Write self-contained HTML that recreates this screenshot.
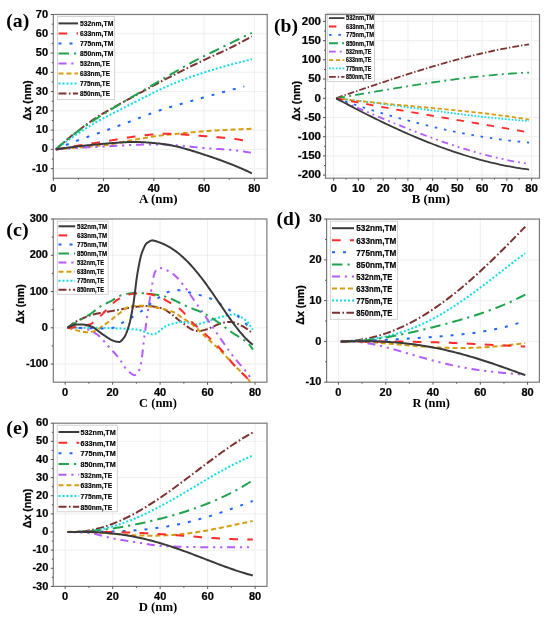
<!DOCTYPE html>
<html><head><meta charset="utf-8"><style>
html,body{margin:0;padding:0;background:#fff;}
svg{display:block;will-change:transform;filter:blur(0.35px);}
</style></head><body>
<svg width="550" height="624" viewBox="0 0 550 624">
<rect width="550" height="624" fill="#ffffff"/>
<line x1="103.57" y1="14.50" x2="103.57" y2="178.30" stroke="#ebebeb" stroke-width="0.8"/>
<line x1="153.84" y1="14.50" x2="153.84" y2="178.30" stroke="#ebebeb" stroke-width="0.8"/>
<line x1="204.11" y1="14.50" x2="204.11" y2="178.30" stroke="#ebebeb" stroke-width="0.8"/>
<line x1="254.38" y1="14.50" x2="254.38" y2="178.30" stroke="#ebebeb" stroke-width="0.8"/>
<line x1="53.30" y1="168.66" x2="267.20" y2="168.66" stroke="#ebebeb" stroke-width="0.8"/>
<line x1="53.30" y1="149.39" x2="267.20" y2="149.39" stroke="#ebebeb" stroke-width="0.8"/>
<line x1="53.30" y1="130.12" x2="267.20" y2="130.12" stroke="#ebebeb" stroke-width="0.8"/>
<line x1="53.30" y1="110.85" x2="267.20" y2="110.85" stroke="#ebebeb" stroke-width="0.8"/>
<line x1="53.30" y1="91.58" x2="267.20" y2="91.58" stroke="#ebebeb" stroke-width="0.8"/>
<line x1="53.30" y1="72.31" x2="267.20" y2="72.31" stroke="#ebebeb" stroke-width="0.8"/>
<line x1="53.30" y1="53.04" x2="267.20" y2="53.04" stroke="#ebebeb" stroke-width="0.8"/>
<line x1="53.30" y1="33.77" x2="267.20" y2="33.77" stroke="#ebebeb" stroke-width="0.8"/>
<clipPath id="ca"><rect x="53.3" y="14.5" width="213.89999999999998" height="163.8"/></clipPath>
<g clip-path="url(#ca)" fill="none" stroke-linejoin="round">
<path d="M55.81,149.39 L56.80,148.50 L57.78,147.62 L58.77,146.74 L59.75,145.87 L60.74,145.00 L61.72,144.14 L62.71,143.28 L63.70,142.44 L64.68,141.59 L65.67,140.76 L66.65,139.93 L67.64,139.10 L68.62,138.29 L69.61,137.48 L70.59,136.67 L71.58,135.88 L72.56,135.08 L73.55,134.30 L74.53,133.52 L75.52,132.75 L76.50,131.99 L77.49,131.23 L78.47,130.48 L79.46,129.73 L80.44,128.99 L81.43,128.25 L82.41,127.51 L83.40,126.77 L84.38,126.04 L85.37,125.31 L86.35,124.59 L87.34,123.87 L88.32,123.16 L89.31,122.45 L90.30,121.75 L91.28,121.06 L92.27,120.37 L93.25,119.69 L94.24,119.02 L95.22,118.36 L96.21,117.71 L97.19,117.07 L98.18,116.43 L99.16,115.81 L100.15,115.20 L101.13,114.60 L102.12,114.01 L103.10,113.43 L104.09,112.87 L105.07,112.31 L106.06,111.74 L107.04,111.18 L108.03,110.62 L109.01,110.06 L110.00,109.51 L110.98,108.95 L111.97,108.39 L112.95,107.84 L113.94,107.28 L114.93,106.73 L115.91,106.18 L116.90,105.63 L117.88,105.08 L118.87,104.53 L119.85,103.98 L120.84,103.43 L121.82,102.89 L122.81,102.34 L123.79,101.80 L124.78,101.25 L125.76,100.71 L126.75,100.17 L127.73,99.63 L128.72,99.09 L129.70,98.55 L130.69,98.01 L131.67,97.47 L132.66,96.94 L133.64,96.40 L134.63,95.86 L135.61,95.32 L136.60,94.78 L137.58,94.24 L138.57,93.70 L139.56,93.16 L140.54,92.63 L141.53,92.09 L142.51,91.55 L143.50,91.01 L144.48,90.48 L145.47,89.94 L146.45,89.41 L147.44,88.87 L148.42,88.34 L149.41,87.80 L150.39,87.27 L151.38,86.74 L152.36,86.21 L153.35,85.68 L154.33,85.15 L155.32,84.62 L156.30,84.10 L157.29,83.57 L158.27,83.05 L159.26,82.53 L160.24,82.01 L161.23,81.49 L162.21,80.97 L163.20,80.45 L164.19,79.93 L165.17,79.42 L166.16,78.91 L167.14,78.39 L168.13,77.88 L169.11,77.37 L170.10,76.86 L171.08,76.35 L172.07,75.84 L173.05,75.34 L174.04,74.83 L175.02,74.33 L176.01,73.82 L176.99,73.32 L177.98,72.82 L178.96,72.32 L179.95,71.82 L180.93,71.32 L181.92,70.82 L182.90,70.33 L183.89,69.84 L184.87,69.35 L185.86,68.86 L186.84,68.37 L187.83,67.88 L188.82,67.40 L189.80,66.92 L190.79,66.43 L191.77,65.95 L192.76,65.47 L193.74,64.99 L194.73,64.51 L195.71,64.03 L196.70,63.56 L197.68,63.08 L198.67,62.60 L199.65,62.13 L200.64,61.65 L201.62,61.18 L202.61,60.70 L203.59,60.23 L204.58,59.75 L205.56,59.28 L206.55,58.82 L207.53,58.36 L208.52,57.90 L209.50,57.44 L210.49,56.99 L211.47,56.54 L212.46,56.10 L213.44,55.65 L214.43,55.21 L215.42,54.76 L216.40,54.32 L217.39,53.88 L218.37,53.44 L219.36,52.99 L220.34,52.55 L221.33,52.10 L222.31,51.66 L223.30,51.21 L224.28,50.75 L225.27,50.30 L226.25,49.84 L227.24,49.37 L228.22,48.91 L229.21,48.43 L230.19,47.96 L231.18,47.47 L232.16,46.98 L233.15,46.49 L234.13,45.99 L235.12,45.48 L236.10,44.97 L237.09,44.46 L238.07,43.94 L239.06,43.41 L240.05,42.89 L241.03,42.35 L242.02,41.82 L243.00,41.28 L243.99,40.73 L244.97,40.18 L245.96,39.63 L246.94,39.08 L247.93,38.52 L248.91,37.97 L249.90,37.40 L250.88,36.84 L251.87,36.28" stroke="#7d3232" stroke-width="2.0" stroke-dasharray="8.00,2.40,1.60,2.40"/>
<path d="M55.81,149.39 L56.80,148.63 L57.78,147.88 L58.77,147.12 L59.75,146.38 L60.74,145.63 L61.72,144.90 L62.71,144.16 L63.70,143.44 L64.68,142.71 L65.67,141.99 L66.65,141.28 L67.64,140.57 L68.62,139.87 L69.61,139.18 L70.59,138.49 L71.58,137.80 L72.56,137.12 L73.55,136.45 L74.53,135.78 L75.52,135.12 L76.50,134.47 L77.49,133.82 L78.47,133.18 L79.46,132.55 L80.44,131.91 L81.43,131.28 L82.41,130.65 L83.40,130.02 L84.38,129.39 L85.37,128.77 L86.35,128.15 L87.34,127.54 L88.32,126.93 L89.31,126.32 L90.30,125.72 L91.28,125.12 L92.27,124.53 L93.25,123.94 L94.24,123.36 L95.22,122.78 L96.21,122.21 L97.19,121.65 L98.18,121.09 L99.16,120.54 L100.15,120.00 L101.13,119.47 L102.12,118.94 L103.10,118.42 L104.09,117.91 L105.07,117.40 L106.06,116.89 L107.04,116.38 L108.03,115.87 L109.01,115.36 L110.00,114.85 L110.98,114.34 L111.97,113.83 L112.95,113.33 L113.94,112.82 L114.93,112.31 L115.91,111.81 L116.90,111.30 L117.88,110.80 L118.87,110.29 L119.85,109.79 L120.84,109.28 L121.82,108.78 L122.81,108.27 L123.79,107.77 L124.78,107.27 L125.76,106.76 L126.75,106.26 L127.73,105.76 L128.72,105.26 L129.70,104.76 L130.69,104.25 L131.67,103.75 L132.66,103.25 L133.64,102.75 L134.63,102.25 L135.61,101.75 L136.60,101.25 L137.58,100.75 L138.57,100.25 L139.56,99.75 L140.54,99.25 L141.53,98.75 L142.51,98.25 L143.50,97.76 L144.48,97.26 L145.47,96.76 L146.45,96.26 L147.44,95.77 L148.42,95.27 L149.41,94.77 L150.39,94.28 L151.38,93.78 L152.36,93.29 L153.35,92.79 L154.33,92.30 L155.32,91.81 L156.30,91.33 L157.29,90.85 L158.27,90.37 L159.26,89.90 L160.24,89.44 L161.23,88.98 L162.21,88.52 L163.20,88.07 L164.19,87.62 L165.17,87.18 L166.16,86.74 L167.14,86.30 L168.13,85.87 L169.11,85.44 L170.10,85.02 L171.08,84.60 L172.07,84.18 L173.05,83.77 L174.04,83.36 L175.02,82.96 L176.01,82.56 L176.99,82.16 L177.98,81.77 L178.96,81.37 L179.95,80.99 L180.93,80.60 L181.92,80.22 L182.90,79.84 L183.89,79.47 L184.87,79.10 L185.86,78.74 L186.84,78.37 L187.83,78.01 L188.82,77.66 L189.80,77.30 L190.79,76.95 L191.77,76.61 L192.76,76.26 L193.74,75.92 L194.73,75.59 L195.71,75.25 L196.70,74.92 L197.68,74.59 L198.67,74.26 L199.65,73.94 L200.64,73.62 L201.62,73.30 L202.61,72.98 L203.59,72.67 L204.58,72.36 L205.56,72.05 L206.55,71.74 L207.53,71.43 L208.52,71.12 L209.50,70.81 L210.49,70.51 L211.47,70.20 L212.46,69.90 L213.44,69.60 L214.43,69.30 L215.42,69.00 L216.40,68.70 L217.39,68.40 L218.37,68.11 L219.36,67.82 L220.34,67.53 L221.33,67.24 L222.31,66.95 L223.30,66.67 L224.28,66.38 L225.27,66.10 L226.25,65.82 L227.24,65.55 L228.22,65.27 L229.21,65.00 L230.19,64.73 L231.18,64.46 L232.16,64.19 L233.15,63.93 L234.13,63.66 L235.12,63.40 L236.10,63.14 L237.09,62.88 L238.07,62.62 L239.06,62.37 L240.05,62.11 L241.03,61.86 L242.02,61.61 L243.00,61.36 L243.99,61.11 L244.97,60.87 L245.96,60.63 L246.94,60.38 L247.93,60.15 L248.91,59.91 L249.90,59.67 L250.88,59.44 L251.87,59.21" stroke="#12dcec" stroke-width="2.0" stroke-dasharray="2.00,2.00"/>
<path d="M55.81,149.39 L56.80,149.31 L57.78,149.23 L58.77,149.14 L59.75,149.06 L60.74,148.97 L61.72,148.89 L62.71,148.81 L63.70,148.72 L64.68,148.64 L65.67,148.55 L66.65,148.47 L67.64,148.39 L68.62,148.30 L69.61,148.22 L70.59,148.13 L71.58,148.05 L72.56,147.97 L73.55,147.88 L74.53,147.80 L75.52,147.72 L76.50,147.63 L77.49,147.55 L78.47,147.46 L79.46,147.38 L80.44,147.30 L81.43,147.21 L82.41,147.13 L83.40,147.05 L84.38,146.97 L85.37,146.89 L86.35,146.81 L87.34,146.72 L88.32,146.64 L89.31,146.56 L90.30,146.48 L91.28,146.40 L92.27,146.32 L93.25,146.23 L94.24,146.15 L95.22,146.07 L96.21,145.99 L97.19,145.90 L98.18,145.82 L99.16,145.73 L100.15,145.65 L101.13,145.56 L102.12,145.48 L103.10,145.39 L104.09,145.30 L105.07,145.20 L106.06,145.08 L107.04,144.95 L108.03,144.81 L109.01,144.65 L110.00,144.49 L110.98,144.32 L111.97,144.13 L112.95,143.95 L113.94,143.75 L114.93,143.55 L115.91,143.35 L116.90,143.14 L117.88,142.93 L118.87,142.72 L119.85,142.51 L120.84,142.29 L121.82,142.08 L122.81,141.87 L123.79,141.67 L124.78,141.47 L125.76,141.27 L126.75,141.08 L127.73,140.90 L128.72,140.72 L129.70,140.55 L130.69,140.38 L131.67,140.20 L132.66,140.03 L133.64,139.86 L134.63,139.68 L135.61,139.51 L136.60,139.33 L137.58,139.16 L138.57,138.99 L139.56,138.82 L140.54,138.65 L141.53,138.47 L142.51,138.31 L143.50,138.14 L144.48,137.97 L145.47,137.81 L146.45,137.64 L147.44,137.48 L148.42,137.32 L149.41,137.16 L150.39,137.01 L151.38,136.85 L152.36,136.70 L153.35,136.56 L154.33,136.41 L155.32,136.27 L156.30,136.13 L157.29,136.00 L158.27,135.87 L159.26,135.74 L160.24,135.61 L161.23,135.49 L162.21,135.37 L163.20,135.26 L164.19,135.14 L165.17,135.03 L166.16,134.92 L167.14,134.81 L168.13,134.70 L169.11,134.60 L170.10,134.49 L171.08,134.39 L172.07,134.29 L173.05,134.19 L174.04,134.09 L175.02,133.99 L176.01,133.89 L176.99,133.79 L177.98,133.69 L178.96,133.59 L179.95,133.49 L180.93,133.40 L181.92,133.30 L182.90,133.20 L183.89,133.10 L184.87,133.00 L185.86,132.91 L186.84,132.81 L187.83,132.71 L188.82,132.62 L189.80,132.52 L190.79,132.43 L191.77,132.34 L192.76,132.24 L193.74,132.15 L194.73,132.06 L195.71,131.97 L196.70,131.89 L197.68,131.80 L198.67,131.72 L199.65,131.63 L200.64,131.55 L201.62,131.47 L202.61,131.39 L203.59,131.32 L204.58,131.24 L205.56,131.17 L206.55,131.10 L207.53,131.03 L208.52,130.96 L209.50,130.89 L210.49,130.83 L211.47,130.76 L212.46,130.69 L213.44,130.63 L214.43,130.57 L215.42,130.51 L216.40,130.45 L217.39,130.39 L218.37,130.33 L219.36,130.27 L220.34,130.21 L221.33,130.16 L222.31,130.10 L223.30,130.05 L224.28,129.99 L225.27,129.94 L226.25,129.89 L227.24,129.84 L228.22,129.79 L229.21,129.74 L230.19,129.69 L231.18,129.64 L232.16,129.60 L233.15,129.55 L234.13,129.50 L235.12,129.45 L236.10,129.41 L237.09,129.36 L238.07,129.32 L239.06,129.28 L240.05,129.23 L241.03,129.19 L242.02,129.15 L243.00,129.11 L243.99,129.07 L244.97,129.03 L245.96,128.99 L246.94,128.95 L247.93,128.91 L248.91,128.88 L249.90,128.84 L250.88,128.81 L251.87,128.77" stroke="#d69d12" stroke-width="2.0" stroke-dasharray="5.00,3.00"/>
<path d="M55.81,149.39 L56.80,149.32 L57.78,149.25 L58.77,149.17 L59.75,149.10 L60.74,149.02 L61.72,148.95 L62.71,148.88 L63.70,148.81 L64.68,148.74 L65.67,148.66 L66.65,148.60 L67.64,148.53 L68.62,148.46 L69.61,148.39 L70.59,148.33 L71.58,148.26 L72.56,148.20 L73.55,148.14 L74.53,148.08 L75.52,148.02 L76.50,147.96 L77.49,147.90 L78.47,147.85 L79.46,147.80 L80.44,147.74 L81.43,147.69 L82.41,147.64 L83.40,147.59 L84.38,147.53 L85.37,147.48 L86.35,147.43 L87.34,147.37 L88.32,147.32 L89.31,147.27 L90.30,147.22 L91.28,147.16 L92.27,147.11 L93.25,147.06 L94.24,147.00 L95.22,146.95 L96.21,146.90 L97.19,146.85 L98.18,146.79 L99.16,146.74 L100.15,146.69 L101.13,146.63 L102.12,146.58 L103.10,146.53 L104.09,146.48 L105.07,146.42 L106.06,146.37 L107.04,146.32 L108.03,146.26 L109.01,146.21 L110.00,146.16 L110.98,146.11 L111.97,146.05 L112.95,146.00 L113.94,145.95 L114.93,145.89 L115.91,145.84 L116.90,145.79 L117.88,145.74 L118.87,145.68 L119.85,145.63 L120.84,145.58 L121.82,145.52 L122.81,145.47 L123.79,145.42 L124.78,145.37 L125.76,145.31 L126.75,145.26 L127.73,145.21 L128.72,145.15 L129.70,145.10 L130.69,145.05 L131.67,145.00 L132.66,144.96 L133.64,144.91 L134.63,144.87 L135.61,144.83 L136.60,144.79 L137.58,144.75 L138.57,144.71 L139.56,144.68 L140.54,144.65 L141.53,144.62 L142.51,144.59 L143.50,144.56 L144.48,144.54 L145.47,144.51 L146.45,144.49 L147.44,144.47 L148.42,144.45 L149.41,144.44 L150.39,144.42 L151.38,144.41 L152.36,144.40 L153.35,144.39 L154.33,144.38 L155.32,144.38 L156.30,144.38 L157.29,144.39 L158.27,144.40 L159.26,144.42 L160.24,144.44 L161.23,144.47 L162.21,144.50 L163.20,144.53 L164.19,144.57 L165.17,144.61 L166.16,144.66 L167.14,144.71 L168.13,144.76 L169.11,144.82 L170.10,144.88 L171.08,144.94 L172.07,145.01 L173.05,145.08 L174.04,145.15 L175.02,145.22 L176.01,145.30 L176.99,145.38 L177.98,145.46 L178.96,145.54 L179.95,145.62 L180.93,145.71 L181.92,145.80 L182.90,145.90 L183.89,145.99 L184.87,146.09 L185.86,146.19 L186.84,146.29 L187.83,146.39 L188.82,146.50 L189.80,146.60 L190.79,146.71 L191.77,146.81 L192.76,146.92 L193.74,147.02 L194.73,147.13 L195.71,147.23 L196.70,147.33 L197.68,147.43 L198.67,147.53 L199.65,147.63 L200.64,147.73 L201.62,147.82 L202.61,147.91 L203.59,148.00 L204.58,148.08 L205.56,148.17 L206.55,148.24 L207.53,148.32 L208.52,148.39 L209.50,148.45 L210.49,148.52 L211.47,148.58 L212.46,148.65 L213.44,148.71 L214.43,148.77 L215.42,148.82 L216.40,148.88 L217.39,148.94 L218.37,149.00 L219.36,149.06 L220.34,149.12 L221.33,149.18 L222.31,149.25 L223.30,149.31 L224.28,149.38 L225.27,149.45 L226.25,149.53 L227.24,149.61 L228.22,149.69 L229.21,149.78 L230.19,149.87 L231.18,149.96 L232.16,150.06 L233.15,150.17 L234.13,150.28 L235.12,150.39 L236.10,150.51 L237.09,150.63 L238.07,150.76 L239.06,150.89 L240.05,151.02 L241.03,151.16 L242.02,151.30 L243.00,151.45 L243.99,151.59 L244.97,151.74 L245.96,151.90 L246.94,152.05 L247.93,152.21 L248.91,152.37 L249.90,152.53 L250.88,152.70 L251.87,152.86" stroke="#b45cff" stroke-width="2.0" stroke-dasharray="8.00,4.80,2.20,4.80,2.20,4.80"/>
<path d="M55.81,149.39 L56.80,148.52 L57.78,147.64 L58.77,146.77 L59.75,145.91 L60.74,145.05 L61.72,144.19 L62.71,143.35 L63.70,142.50 L64.68,141.67 L65.67,140.84 L66.65,140.02 L67.64,139.21 L68.62,138.40 L69.61,137.60 L70.59,136.82 L71.58,136.04 L72.56,135.27 L73.55,134.51 L74.53,133.76 L75.52,133.02 L76.50,132.29 L77.49,131.57 L78.47,130.87 L79.46,130.17 L80.44,129.47 L81.43,128.78 L82.41,128.09 L83.40,127.40 L84.38,126.72 L85.37,126.04 L86.35,125.36 L87.34,124.68 L88.32,124.01 L89.31,123.35 L90.30,122.68 L91.28,122.02 L92.27,121.37 L93.25,120.71 L94.24,120.06 L95.22,119.42 L96.21,118.78 L97.19,118.14 L98.18,117.51 L99.16,116.88 L100.15,116.26 L101.13,115.64 L102.12,115.03 L103.10,114.42 L104.09,113.81 L105.07,113.21 L106.06,112.60 L107.04,111.99 L108.03,111.39 L109.01,110.78 L110.00,110.18 L110.98,109.57 L111.97,108.97 L112.95,108.36 L113.94,107.76 L114.93,107.16 L115.91,106.56 L116.90,105.96 L117.88,105.36 L118.87,104.76 L119.85,104.17 L120.84,103.57 L121.82,102.98 L122.81,102.39 L123.79,101.80 L124.78,101.22 L125.76,100.63 L126.75,100.05 L127.73,99.47 L128.72,98.90 L129.70,98.32 L130.69,97.75 L131.67,97.18 L132.66,96.60 L133.64,96.03 L134.63,95.45 L135.61,94.88 L136.60,94.31 L137.58,93.73 L138.57,93.16 L139.56,92.58 L140.54,92.01 L141.53,91.44 L142.51,90.86 L143.50,90.29 L144.48,89.71 L145.47,89.14 L146.45,88.56 L147.44,87.99 L148.42,87.42 L149.41,86.84 L150.39,86.27 L151.38,85.69 L152.36,85.12 L153.35,84.55 L154.33,83.97 L155.32,83.40 L156.30,82.82 L157.29,82.25 L158.27,81.68 L159.26,81.10 L160.24,80.53 L161.23,79.95 L162.21,79.38 L163.20,78.81 L164.19,78.23 L165.17,77.66 L166.16,77.08 L167.14,76.51 L168.13,75.94 L169.11,75.36 L170.10,74.79 L171.08,74.21 L172.07,73.64 L173.05,73.07 L174.04,72.49 L175.02,71.92 L176.01,71.34 L176.99,70.77 L177.98,70.20 L178.96,69.62 L179.95,69.05 L180.93,68.48 L181.92,67.92 L182.90,67.36 L183.89,66.80 L184.87,66.25 L185.86,65.70 L186.84,65.15 L187.83,64.61 L188.82,64.07 L189.80,63.53 L190.79,63.00 L191.77,62.47 L192.76,61.95 L193.74,61.43 L194.73,60.91 L195.71,60.39 L196.70,59.88 L197.68,59.37 L198.67,58.87 L199.65,58.36 L200.64,57.86 L201.62,57.37 L202.61,56.87 L203.59,56.38 L204.58,55.89 L205.56,55.41 L206.55,54.92 L207.53,54.43 L208.52,53.94 L209.50,53.46 L210.49,52.97 L211.47,52.49 L212.46,52.00 L213.44,51.52 L214.43,51.03 L215.42,50.55 L216.40,50.07 L217.39,49.58 L218.37,49.10 L219.36,48.62 L220.34,48.13 L221.33,47.65 L222.31,47.17 L223.30,46.69 L224.28,46.21 L225.27,45.73 L226.25,45.25 L227.24,44.77 L228.22,44.29 L229.21,43.81 L230.19,43.33 L231.18,42.85 L232.16,42.37 L233.15,41.89 L234.13,41.41 L235.12,40.93 L236.10,40.46 L237.09,39.98 L238.07,39.50 L239.06,39.02 L240.05,38.54 L241.03,38.06 L242.02,37.58 L243.00,37.10 L243.99,36.62 L244.97,36.15 L245.96,35.67 L246.94,35.19 L247.93,34.71 L248.91,34.24 L249.90,33.76 L250.88,33.28 L251.87,32.81" stroke="#1fa34d" stroke-width="2.0" stroke-dasharray="10.50,5.00,2.20,5.00"/>
<path d="M55.81,149.39 L56.76,148.98 L57.71,148.57 L58.66,148.16 L59.60,147.75 L60.55,147.34 L61.50,146.93 L62.44,146.53 L63.39,146.13 L64.34,145.73 L65.29,145.33 L66.23,144.93 L67.18,144.54 L68.13,144.15 L69.08,143.77 L70.02,143.38 L70.97,143.00 L71.92,142.63 L72.86,142.25 L73.81,141.88 L74.76,141.52 L75.71,141.16 L76.65,140.80 L77.60,140.45 L78.55,140.10 L79.50,139.76 L80.44,139.42 L81.39,139.08 L82.34,138.74 L83.29,138.40 L84.23,138.07 L85.18,137.74 L86.13,137.41 L87.07,137.08 L88.02,136.75 L88.97,136.42 L89.92,136.09 L90.86,135.76 L91.81,135.43 L92.76,135.10 L93.71,134.77 L94.65,134.44 L95.60,134.11 L96.55,133.78 L97.49,133.45 L98.44,133.12 L99.39,132.78 L100.34,132.45 L101.28,132.11 L102.23,131.77 L103.18,131.42 L104.13,131.08 L105.07,130.73 L106.02,130.39 L106.97,130.04 L107.92,129.69 L108.86,129.35 L109.81,129.00 L110.76,128.65 L111.70,128.30 L112.65,127.96 L113.60,127.61 L114.55,127.26 L115.49,126.91 L116.44,126.56 L117.39,126.21 L118.34,125.86 L119.28,125.51 L120.23,125.17 L121.18,124.82 L122.12,124.47 L123.07,124.12 L124.02,123.77 L124.97,123.41 L125.91,123.06 L126.86,122.71 L127.81,122.36 L128.76,122.01 L129.70,121.66 L130.65,121.30 L131.60,120.94 L132.55,120.58 L133.49,120.22 L134.44,119.85 L135.39,119.48 L136.33,119.11 L137.28,118.74 L138.23,118.37 L139.18,118.00 L140.12,117.63 L141.07,117.26 L142.02,116.89 L142.97,116.52 L143.91,116.15 L144.86,115.78 L145.81,115.41 L146.75,115.04 L147.70,114.68 L148.65,114.32 L149.60,113.96 L150.54,113.61 L151.49,113.25 L152.44,112.90 L153.39,112.56 L154.33,112.22 L155.28,111.88 L156.23,111.55 L157.18,111.22 L158.12,110.90 L159.07,110.58 L160.02,110.26 L160.96,109.95 L161.91,109.64 L162.86,109.33 L163.81,109.03 L164.75,108.73 L165.70,108.43 L166.65,108.14 L167.60,107.85 L168.54,107.56 L169.49,107.27 L170.44,106.99 L171.38,106.70 L172.33,106.42 L173.28,106.14 L174.23,105.87 L175.17,105.59 L176.12,105.32 L177.07,105.04 L178.02,104.77 L178.96,104.50 L179.91,104.23 L180.86,103.95 L181.80,103.68 L182.75,103.41 L183.70,103.14 L184.65,102.87 L185.59,102.60 L186.54,102.33 L187.49,102.06 L188.44,101.79 L189.38,101.51 L190.33,101.24 L191.28,100.98 L192.23,100.71 L193.17,100.44 L194.12,100.17 L195.07,99.90 L196.01,99.63 L196.96,99.36 L197.91,99.10 L198.86,98.83 L199.80,98.57 L200.75,98.30 L201.70,98.04 L202.65,97.77 L203.59,97.51 L204.54,97.24 L205.49,96.98 L206.43,96.72 L207.38,96.46 L208.33,96.19 L209.28,95.93 L210.22,95.67 L211.17,95.40 L212.12,95.14 L213.07,94.88 L214.01,94.62 L214.96,94.35 L215.91,94.09 L216.86,93.83 L217.80,93.57 L218.75,93.31 L219.70,93.04 L220.64,92.78 L221.59,92.52 L222.54,92.26 L223.49,92.00 L224.43,91.74 L225.38,91.48 L226.33,91.22 L227.28,90.96 L228.22,90.70 L229.17,90.45 L230.12,90.19 L231.06,89.93 L232.01,89.68 L232.96,89.42 L233.91,89.16 L234.85,88.91 L235.80,88.65 L236.75,88.40 L237.70,88.14 L238.64,87.89 L239.59,87.64 L240.54,87.39 L241.49,87.13 L242.43,86.88 L243.38,86.63 L244.33,86.38" stroke="#1f66ff" stroke-width="2.0" stroke-dasharray="3.00,8.00"/>
<path d="M55.81,149.39 L56.77,149.22 L57.73,149.05 L58.69,148.88 L59.65,148.71 L60.61,148.54 L61.57,148.38 L62.53,148.21 L63.49,148.04 L64.45,147.88 L65.41,147.71 L66.37,147.55 L67.33,147.38 L68.29,147.22 L69.25,147.06 L70.21,146.89 L71.17,146.73 L72.13,146.57 L73.09,146.41 L74.05,146.26 L75.01,146.10 L75.97,145.94 L76.93,145.78 L77.89,145.63 L78.85,145.47 L79.81,145.32 L80.77,145.17 L81.73,145.02 L82.69,144.87 L83.65,144.72 L84.61,144.57 L85.57,144.42 L86.53,144.28 L87.49,144.13 L88.45,143.98 L89.41,143.84 L90.37,143.70 L91.33,143.55 L92.29,143.41 L93.25,143.26 L94.21,143.12 L95.17,142.97 L96.13,142.83 L97.09,142.68 L98.05,142.54 L99.01,142.39 L99.97,142.25 L100.93,142.10 L101.89,141.95 L102.85,141.80 L103.81,141.65 L104.77,141.50 L105.73,141.34 L106.69,141.18 L107.65,141.03 L108.61,140.87 L109.57,140.71 L110.53,140.55 L111.49,140.38 L112.45,140.22 L113.41,140.05 L114.37,139.89 L115.33,139.72 L116.29,139.56 L117.25,139.39 L118.21,139.23 L119.17,139.06 L120.13,138.89 L121.09,138.73 L122.05,138.56 L123.01,138.40 L123.97,138.24 L124.93,138.07 L125.89,137.91 L126.85,137.75 L127.81,137.59 L128.77,137.44 L129.73,137.28 L130.69,137.13 L131.65,136.98 L132.61,136.83 L133.57,136.69 L134.53,136.55 L135.49,136.41 L136.45,136.28 L137.41,136.15 L138.37,136.02 L139.33,135.89 L140.29,135.77 L141.25,135.65 L142.21,135.54 L143.17,135.42 L144.13,135.31 L145.09,135.21 L146.05,135.10 L147.01,135.00 L147.97,134.90 L148.93,134.81 L149.89,134.71 L150.85,134.62 L151.81,134.54 L152.77,134.45 L153.73,134.37 L154.69,134.30 L155.65,134.22 L156.61,134.16 L157.57,134.10 L158.53,134.04 L159.49,133.99 L160.45,133.94 L161.41,133.90 L162.37,133.87 L163.33,133.84 L164.29,133.82 L165.25,133.80 L166.21,133.79 L167.17,133.78 L168.13,133.78 L169.09,133.78 L170.05,133.79 L171.01,133.81 L171.97,133.83 L172.93,133.86 L173.89,133.89 L174.85,133.93 L175.81,133.98 L176.77,134.03 L177.73,134.09 L178.69,134.15 L179.65,134.22 L180.61,134.29 L181.56,134.36 L182.52,134.43 L183.48,134.50 L184.44,134.57 L185.40,134.64 L186.36,134.71 L187.32,134.78 L188.28,134.86 L189.24,134.93 L190.20,135.00 L191.16,135.08 L192.12,135.15 L193.08,135.22 L194.04,135.30 L195.00,135.37 L195.96,135.45 L196.92,135.52 L197.88,135.60 L198.84,135.68 L199.80,135.75 L200.76,135.83 L201.72,135.91 L202.68,135.98 L203.64,136.06 L204.60,136.14 L205.56,136.21 L206.52,136.29 L207.48,136.37 L208.44,136.45 L209.40,136.53 L210.36,136.60 L211.32,136.68 L212.28,136.76 L213.24,136.84 L214.20,136.92 L215.16,137.00 L216.12,137.08 L217.08,137.16 L218.04,137.24 L219.00,137.32 L219.96,137.40 L220.92,137.48 L221.88,137.56 L222.84,137.65 L223.80,137.73 L224.76,137.82 L225.72,137.90 L226.68,137.99 L227.64,138.07 L228.60,138.16 L229.56,138.25 L230.52,138.34 L231.48,138.45 L232.44,138.57 L233.40,138.69 L234.36,138.83 L235.32,138.97 L236.28,139.12 L237.24,139.28 L238.20,139.44 L239.16,139.61 L240.12,139.79 L241.08,139.96 L242.04,140.15 L243.00,140.34 L243.96,140.53 L244.92,140.72 L245.88,140.91 L246.84,141.11" stroke="#ff2a2a" stroke-width="2.0" stroke-dasharray="8.70,9.30"/>
<path d="M55.81,149.39 L56.80,149.24 L57.78,149.09 L58.77,148.94 L59.75,148.80 L60.74,148.65 L61.72,148.51 L62.71,148.36 L63.70,148.22 L64.68,148.08 L65.67,147.95 L66.65,147.81 L67.64,147.67 L68.62,147.54 L69.61,147.41 L70.59,147.28 L71.58,147.15 L72.56,147.03 L73.55,146.90 L74.53,146.78 L75.52,146.66 L76.50,146.54 L77.49,146.42 L78.47,146.31 L79.46,146.19 L80.44,146.08 L81.43,145.97 L82.41,145.86 L83.40,145.76 L84.38,145.65 L85.37,145.55 L86.35,145.45 L87.34,145.35 L88.32,145.25 L89.31,145.15 L90.30,145.05 L91.28,144.95 L92.27,144.86 L93.25,144.76 L94.24,144.67 L95.22,144.58 L96.21,144.49 L97.19,144.39 L98.18,144.30 L99.16,144.21 L100.15,144.12 L101.13,144.03 L102.12,143.94 L103.10,143.85 L104.09,143.76 L105.07,143.67 L106.06,143.58 L107.04,143.50 L108.03,143.42 L109.01,143.33 L110.00,143.25 L110.98,143.18 L111.97,143.10 L112.95,143.03 L113.94,142.95 L114.93,142.88 L115.91,142.81 L116.90,142.75 L117.88,142.68 L118.87,142.62 L119.85,142.56 L120.84,142.50 L121.82,142.44 L122.81,142.38 L123.79,142.32 L124.78,142.27 L125.76,142.22 L126.75,142.17 L127.73,142.12 L128.72,142.07 L129.70,142.03 L130.69,142.00 L131.67,141.97 L132.66,141.95 L133.64,141.94 L134.63,141.94 L135.61,141.95 L136.60,141.96 L137.58,141.98 L138.57,142.01 L139.56,142.04 L140.54,142.08 L141.53,142.13 L142.51,142.18 L143.50,142.23 L144.48,142.29 L145.47,142.35 L146.45,142.42 L147.44,142.49 L148.42,142.57 L149.41,142.65 L150.39,142.73 L151.38,142.81 L152.36,142.90 L153.35,142.99 L154.33,143.08 L155.32,143.17 L156.30,143.27 L157.29,143.37 L158.27,143.48 L159.26,143.59 L160.24,143.70 L161.23,143.82 L162.21,143.95 L163.20,144.08 L164.19,144.21 L165.17,144.35 L166.16,144.50 L167.14,144.65 L168.13,144.81 L169.11,144.98 L170.10,145.16 L171.08,145.34 L172.07,145.53 L173.05,145.72 L174.04,145.93 L175.02,146.14 L176.01,146.36 L176.99,146.59 L177.98,146.83 L178.96,147.08 L179.95,147.33 L180.93,147.59 L181.92,147.85 L182.90,148.12 L183.89,148.39 L184.87,148.66 L185.86,148.94 L186.84,149.22 L187.83,149.50 L188.82,149.79 L189.80,150.08 L190.79,150.37 L191.77,150.67 L192.76,150.97 L193.74,151.27 L194.73,151.57 L195.71,151.88 L196.70,152.19 L197.68,152.50 L198.67,152.82 L199.65,153.14 L200.64,153.45 L201.62,153.78 L202.61,154.10 L203.59,154.43 L204.58,154.75 L205.56,155.08 L206.55,155.41 L207.53,155.74 L208.52,156.07 L209.50,156.40 L210.49,156.74 L211.47,157.07 L212.46,157.41 L213.44,157.74 L214.43,158.08 L215.42,158.42 L216.40,158.77 L217.39,159.11 L218.37,159.46 L219.36,159.81 L220.34,160.16 L221.33,160.51 L222.31,160.87 L223.30,161.23 L224.28,161.59 L225.27,161.96 L226.25,162.32 L227.24,162.70 L228.22,163.07 L229.21,163.45 L230.19,163.83 L231.18,164.22 L232.16,164.61 L233.15,165.00 L234.13,165.40 L235.12,165.81 L236.10,166.22 L237.09,166.63 L238.07,167.05 L239.06,167.47 L240.05,167.90 L241.03,168.33 L242.02,168.76 L243.00,169.20 L243.99,169.64 L244.97,170.09 L245.96,170.53 L246.94,170.98 L247.93,171.44 L248.91,171.90 L249.90,172.36 L250.88,172.82 L251.87,173.29" stroke="#3a3a3a" stroke-width="2.0"/>
</g>
<rect x="57.6" y="16.5" width="57.1" height="83.1" fill="#ffffff" stroke="#c8c8c8" stroke-width="0.8"/>
<line x1="58.5" y1="23.40" x2="78" y2="23.40" stroke="#3a3a3a" stroke-width="2.0"/>
<text x="80" y="26.17" font-family='"Liberation Sans", sans-serif' font-weight="bold" font-size="7.70" stroke="#000" stroke-width="0.18" textLength="33.30" lengthAdjust="spacingAndGlyphs">532nm,TM</text>
<line x1="58.5" y1="33.40" x2="78" y2="33.40" stroke="#ff2a2a" stroke-width="2.0" stroke-dasharray="8.70,9.30"/>
<text x="80" y="36.17" font-family='"Liberation Sans", sans-serif' font-weight="bold" font-size="7.70" stroke="#000" stroke-width="0.18" textLength="33.30" lengthAdjust="spacingAndGlyphs">633nm,TM</text>
<line x1="58.5" y1="43.40" x2="78" y2="43.40" stroke="#1f66ff" stroke-width="2.0" stroke-dasharray="3.00,8.00"/>
<text x="80" y="46.17" font-family='"Liberation Sans", sans-serif' font-weight="bold" font-size="7.70" stroke="#000" stroke-width="0.18" textLength="33.30" lengthAdjust="spacingAndGlyphs">775nm,TM</text>
<line x1="58.5" y1="53.40" x2="78" y2="53.40" stroke="#1fa34d" stroke-width="2.0" stroke-dasharray="10.50,5.00,2.20,5.00"/>
<text x="80" y="56.17" font-family='"Liberation Sans", sans-serif' font-weight="bold" font-size="7.70" stroke="#000" stroke-width="0.18" textLength="33.30" lengthAdjust="spacingAndGlyphs">850nm,TM</text>
<line x1="58.5" y1="63.40" x2="78" y2="63.40" stroke="#b45cff" stroke-width="2.0" stroke-dasharray="8.00,4.80,2.20,4.80,2.20,4.80"/>
<text x="80" y="66.17" font-family='"Liberation Sans", sans-serif' font-weight="bold" font-size="7.70" stroke="#000" stroke-width="0.18" textLength="29.97" lengthAdjust="spacingAndGlyphs">532nm,TE</text>
<line x1="58.5" y1="73.40" x2="78" y2="73.40" stroke="#d69d12" stroke-width="2.0" stroke-dasharray="5.00,3.00"/>
<text x="80" y="76.17" font-family='"Liberation Sans", sans-serif' font-weight="bold" font-size="7.70" stroke="#000" stroke-width="0.18" textLength="29.97" lengthAdjust="spacingAndGlyphs">633nm,TE</text>
<line x1="58.5" y1="83.40" x2="78" y2="83.40" stroke="#12dcec" stroke-width="2.0" stroke-dasharray="2.00,2.00"/>
<text x="80" y="86.17" font-family='"Liberation Sans", sans-serif' font-weight="bold" font-size="7.70" stroke="#000" stroke-width="0.18" textLength="29.97" lengthAdjust="spacingAndGlyphs">775nm,TE</text>
<line x1="58.5" y1="93.40" x2="78" y2="93.40" stroke="#7d3232" stroke-width="2.0" stroke-dasharray="8.00,2.40,1.60,2.40"/>
<text x="80" y="96.17" font-family='"Liberation Sans", sans-serif' font-weight="bold" font-size="7.70" stroke="#000" stroke-width="0.18" textLength="29.97" lengthAdjust="spacingAndGlyphs">850nm,TE</text>
<rect x="53.3" y="14.5" width="213.89999999999998" height="163.8" fill="none" stroke="#7a7a7a" stroke-width="1.2"/>
<line x1="53.30" y1="178.30" x2="53.30" y2="180.80" stroke="#555" stroke-width="1"/>
<line x1="103.57" y1="178.30" x2="103.57" y2="180.80" stroke="#555" stroke-width="1"/>
<line x1="153.84" y1="178.30" x2="153.84" y2="180.80" stroke="#555" stroke-width="1"/>
<line x1="204.11" y1="178.30" x2="204.11" y2="180.80" stroke="#555" stroke-width="1"/>
<line x1="254.38" y1="178.30" x2="254.38" y2="180.80" stroke="#555" stroke-width="1"/>
<line x1="78.44" y1="178.30" x2="78.44" y2="179.80" stroke="#555" stroke-width="1"/>
<line x1="128.71" y1="178.30" x2="128.71" y2="179.80" stroke="#555" stroke-width="1"/>
<line x1="178.98" y1="178.30" x2="178.98" y2="179.80" stroke="#555" stroke-width="1"/>
<line x1="229.25" y1="178.30" x2="229.25" y2="179.80" stroke="#555" stroke-width="1"/>
<line x1="50.80" y1="168.66" x2="53.30" y2="168.66" stroke="#555" stroke-width="1"/>
<line x1="50.80" y1="149.39" x2="53.30" y2="149.39" stroke="#555" stroke-width="1"/>
<line x1="50.80" y1="130.12" x2="53.30" y2="130.12" stroke="#555" stroke-width="1"/>
<line x1="50.80" y1="110.85" x2="53.30" y2="110.85" stroke="#555" stroke-width="1"/>
<line x1="50.80" y1="91.58" x2="53.30" y2="91.58" stroke="#555" stroke-width="1"/>
<line x1="50.80" y1="72.31" x2="53.30" y2="72.31" stroke="#555" stroke-width="1"/>
<line x1="50.80" y1="53.04" x2="53.30" y2="53.04" stroke="#555" stroke-width="1"/>
<line x1="50.80" y1="33.77" x2="53.30" y2="33.77" stroke="#555" stroke-width="1"/>
<line x1="50.80" y1="14.50" x2="53.30" y2="14.50" stroke="#555" stroke-width="1"/>
<line x1="51.80" y1="159.03" x2="53.30" y2="159.03" stroke="#555" stroke-width="1"/>
<line x1="51.80" y1="139.76" x2="53.30" y2="139.76" stroke="#555" stroke-width="1"/>
<line x1="51.80" y1="120.49" x2="53.30" y2="120.49" stroke="#555" stroke-width="1"/>
<line x1="51.80" y1="101.22" x2="53.30" y2="101.22" stroke="#555" stroke-width="1"/>
<line x1="51.80" y1="81.95" x2="53.30" y2="81.95" stroke="#555" stroke-width="1"/>
<line x1="51.80" y1="62.68" x2="53.30" y2="62.68" stroke="#555" stroke-width="1"/>
<line x1="51.80" y1="43.41" x2="53.30" y2="43.41" stroke="#555" stroke-width="1"/>
<line x1="51.80" y1="24.14" x2="53.30" y2="24.14" stroke="#555" stroke-width="1"/>
<text x="53.30" y="192.00" text-anchor="middle" font-family='"Liberation Sans", sans-serif' font-weight="bold" font-size="10" stroke="#000" stroke-width="0.2" textLength="6.12" lengthAdjust="spacingAndGlyphs">0</text>
<text x="103.57" y="192.00" text-anchor="middle" font-family='"Liberation Sans", sans-serif' font-weight="bold" font-size="10" stroke="#000" stroke-width="0.2" textLength="12.23" lengthAdjust="spacingAndGlyphs">20</text>
<text x="153.84" y="192.00" text-anchor="middle" font-family='"Liberation Sans", sans-serif' font-weight="bold" font-size="10" stroke="#000" stroke-width="0.2" textLength="12.23" lengthAdjust="spacingAndGlyphs">40</text>
<text x="204.11" y="192.00" text-anchor="middle" font-family='"Liberation Sans", sans-serif' font-weight="bold" font-size="10" stroke="#000" stroke-width="0.2" textLength="12.23" lengthAdjust="spacingAndGlyphs">60</text>
<text x="254.38" y="192.00" text-anchor="middle" font-family='"Liberation Sans", sans-serif' font-weight="bold" font-size="10" stroke="#000" stroke-width="0.2" textLength="12.23" lengthAdjust="spacingAndGlyphs">80</text>
<text x="48.00" y="171.76" text-anchor="end" font-family='"Liberation Sans", sans-serif' font-weight="bold" font-size="10" stroke="#000" stroke-width="0.2" textLength="15.90" lengthAdjust="spacingAndGlyphs">-10</text>
<text x="48.00" y="152.49" text-anchor="end" font-family='"Liberation Sans", sans-serif' font-weight="bold" font-size="10" stroke="#000" stroke-width="0.2" textLength="6.12" lengthAdjust="spacingAndGlyphs">0</text>
<text x="48.00" y="133.22" text-anchor="end" font-family='"Liberation Sans", sans-serif' font-weight="bold" font-size="10" stroke="#000" stroke-width="0.2" textLength="12.23" lengthAdjust="spacingAndGlyphs">10</text>
<text x="48.00" y="113.95" text-anchor="end" font-family='"Liberation Sans", sans-serif' font-weight="bold" font-size="10" stroke="#000" stroke-width="0.2" textLength="12.23" lengthAdjust="spacingAndGlyphs">20</text>
<text x="48.00" y="94.68" text-anchor="end" font-family='"Liberation Sans", sans-serif' font-weight="bold" font-size="10" stroke="#000" stroke-width="0.2" textLength="12.23" lengthAdjust="spacingAndGlyphs">30</text>
<text x="48.00" y="75.41" text-anchor="end" font-family='"Liberation Sans", sans-serif' font-weight="bold" font-size="10" stroke="#000" stroke-width="0.2" textLength="12.23" lengthAdjust="spacingAndGlyphs">40</text>
<text x="48.00" y="56.14" text-anchor="end" font-family='"Liberation Sans", sans-serif' font-weight="bold" font-size="10" stroke="#000" stroke-width="0.2" textLength="12.23" lengthAdjust="spacingAndGlyphs">50</text>
<text x="48.00" y="36.87" text-anchor="end" font-family='"Liberation Sans", sans-serif' font-weight="bold" font-size="10" stroke="#000" stroke-width="0.2" textLength="12.23" lengthAdjust="spacingAndGlyphs">60</text>
<text x="48.00" y="17.60" text-anchor="end" font-family='"Liberation Sans", sans-serif' font-weight="bold" font-size="10" stroke="#000" stroke-width="0.2" textLength="12.23" lengthAdjust="spacingAndGlyphs">70</text>
<text x="139" y="203" font-family='"Liberation Serif", serif' font-weight="bold" font-size="12" textLength="38.5" lengthAdjust="spacingAndGlyphs">A (nm)</text>
<text transform="translate(30.5,100.4) rotate(-90)" text-anchor="middle" font-family='"Liberation Sans", sans-serif' font-weight="bold" font-size="11" stroke="#000" stroke-width="0.25" textLength="40" lengthAdjust="spacingAndGlyphs">&#916;x (nm)</text>
<text x="6.3" y="26.5" font-family='"Liberation Serif", serif' font-weight="bold" font-size="19" textLength="23" lengthAdjust="spacingAndGlyphs">(a)</text>
<line x1="333.66" y1="14.50" x2="333.66" y2="178.20" stroke="#ebebeb" stroke-width="0.8"/>
<line x1="358.40" y1="14.50" x2="358.40" y2="178.20" stroke="#ebebeb" stroke-width="0.8"/>
<line x1="383.14" y1="14.50" x2="383.14" y2="178.20" stroke="#ebebeb" stroke-width="0.8"/>
<line x1="407.88" y1="14.50" x2="407.88" y2="178.20" stroke="#ebebeb" stroke-width="0.8"/>
<line x1="432.62" y1="14.50" x2="432.62" y2="178.20" stroke="#ebebeb" stroke-width="0.8"/>
<line x1="457.36" y1="14.50" x2="457.36" y2="178.20" stroke="#ebebeb" stroke-width="0.8"/>
<line x1="482.10" y1="14.50" x2="482.10" y2="178.20" stroke="#ebebeb" stroke-width="0.8"/>
<line x1="506.84" y1="14.50" x2="506.84" y2="178.20" stroke="#ebebeb" stroke-width="0.8"/>
<line x1="531.58" y1="14.50" x2="531.58" y2="178.20" stroke="#ebebeb" stroke-width="0.8"/>
<line x1="325.50" y1="175.13" x2="539.50" y2="175.13" stroke="#ebebeb" stroke-width="0.8"/>
<line x1="325.50" y1="155.91" x2="539.50" y2="155.91" stroke="#ebebeb" stroke-width="0.8"/>
<line x1="325.50" y1="136.70" x2="539.50" y2="136.70" stroke="#ebebeb" stroke-width="0.8"/>
<line x1="325.50" y1="117.48" x2="539.50" y2="117.48" stroke="#ebebeb" stroke-width="0.8"/>
<line x1="325.50" y1="98.27" x2="539.50" y2="98.27" stroke="#ebebeb" stroke-width="0.8"/>
<line x1="325.50" y1="79.06" x2="539.50" y2="79.06" stroke="#ebebeb" stroke-width="0.8"/>
<line x1="325.50" y1="59.84" x2="539.50" y2="59.84" stroke="#ebebeb" stroke-width="0.8"/>
<line x1="325.50" y1="40.63" x2="539.50" y2="40.63" stroke="#ebebeb" stroke-width="0.8"/>
<line x1="325.50" y1="21.42" x2="539.50" y2="21.42" stroke="#ebebeb" stroke-width="0.8"/>
<clipPath id="cb"><rect x="325.5" y="14.5" width="214.0" height="163.7"/></clipPath>
<g clip-path="url(#cb)" fill="none" stroke-linejoin="round">
<path d="M336.14,98.10 L338.58,97.27 L341.02,96.43 L343.47,95.60 L345.91,94.76 L348.35,93.93 L350.79,93.09 L353.24,92.26 L355.68,91.43 L358.12,90.60 L360.56,89.76 L363.01,88.93 L365.45,88.11 L367.89,87.28 L370.34,86.45 L372.78,85.63 L375.22,84.81 L377.66,83.99 L380.11,83.17 L382.55,82.36 L384.99,81.55 L387.43,80.74 L389.88,79.93 L392.32,79.13 L394.76,78.33 L397.20,77.53 L399.65,76.74 L402.09,75.95 L404.53,75.17 L406.98,74.39 L409.42,73.61 L411.86,72.84 L414.30,72.08 L416.75,71.31 L419.19,70.56 L421.63,69.81 L424.07,69.06 L426.52,68.32 L428.96,67.58 L431.40,66.85 L433.85,66.13 L436.29,65.41 L438.73,64.70 L441.17,64.00 L443.62,63.30 L446.06,62.61 L448.50,61.93 L450.94,61.25 L453.39,60.58 L455.83,59.92 L458.27,59.27 L460.71,58.62 L463.16,57.98 L465.60,57.35 L468.04,56.73 L470.49,56.12 L472.93,55.51 L475.37,54.92 L477.81,54.33 L480.26,53.75 L482.70,53.18 L485.14,52.62 L487.58,52.07 L490.03,51.53 L492.47,51.00 L494.91,50.48 L497.35,49.97 L499.80,49.48 L502.24,48.99 L504.68,48.51 L507.13,48.04 L509.57,47.59 L512.01,47.14 L514.45,46.71 L516.90,46.29 L519.34,45.88 L521.78,45.48 L524.22,45.10 L526.67,44.73 L529.11,44.36" stroke="#7d3232" stroke-width="1.8" stroke-dasharray="6.80,2.04,1.36,2.04"/>
<path d="M336.14,98.32 L338.58,98.58 L341.02,98.84 L343.47,99.11 L345.91,99.38 L348.35,99.66 L350.79,99.94 L353.24,100.22 L355.68,100.51 L358.12,100.80 L360.56,101.09 L363.01,101.39 L365.45,101.69 L367.89,101.99 L370.34,102.30 L372.78,102.61 L375.22,102.92 L377.66,103.23 L380.11,103.55 L382.55,103.86 L384.99,104.18 L387.43,104.50 L389.88,104.82 L392.32,105.14 L394.76,105.47 L397.20,105.79 L399.65,106.12 L402.09,106.45 L404.53,106.78 L406.98,107.10 L409.42,107.43 L411.86,107.76 L414.30,108.09 L416.75,108.42 L419.19,108.75 L421.63,109.08 L424.07,109.41 L426.52,109.73 L428.96,110.06 L431.40,110.39 L433.85,110.71 L436.29,111.04 L438.73,111.36 L441.17,111.68 L443.62,112.00 L446.06,112.32 L448.50,112.63 L450.94,112.95 L453.39,113.26 L455.83,113.57 L458.27,113.87 L460.71,114.18 L463.16,114.48 L465.60,114.78 L468.04,115.07 L470.49,115.37 L472.93,115.66 L475.37,115.94 L477.81,116.22 L480.26,116.50 L482.70,116.78 L485.14,117.05 L487.58,117.31 L490.03,117.57 L492.47,117.83 L494.91,118.09 L497.35,118.33 L499.80,118.58 L502.24,118.81 L504.68,119.05 L507.13,119.28 L509.57,119.50 L512.01,119.71 L514.45,119.93 L516.90,120.13 L519.34,120.33 L521.78,120.52 L524.22,120.71 L526.67,120.89 L529.11,121.06" stroke="#12dcec" stroke-width="1.8" stroke-dasharray="1.70,1.70"/>
<path d="M336.14,98.25 L338.58,98.56 L341.02,98.86 L343.47,99.16 L345.91,99.46 L348.35,99.74 L350.79,100.03 L353.24,100.31 L355.68,100.58 L358.12,100.85 L360.56,101.12 L363.01,101.39 L365.45,101.65 L367.89,101.90 L370.34,102.16 L372.78,102.41 L375.22,102.66 L377.66,102.90 L380.11,103.14 L382.55,103.38 L384.99,103.62 L387.43,103.86 L389.88,104.09 L392.32,104.33 L394.76,104.56 L397.20,104.79 L399.65,105.01 L402.09,105.24 L404.53,105.47 L406.98,105.69 L409.42,105.92 L411.86,106.14 L414.30,106.37 L416.75,106.59 L419.19,106.82 L421.63,107.04 L424.07,107.26 L426.52,107.49 L428.96,107.71 L431.40,107.94 L433.85,108.17 L436.29,108.40 L438.73,108.63 L441.17,108.86 L443.62,109.09 L446.06,109.33 L448.50,109.57 L450.94,109.80 L453.39,110.05 L455.83,110.29 L458.27,110.54 L460.71,110.79 L463.16,111.04 L465.60,111.29 L468.04,111.55 L470.49,111.81 L472.93,112.08 L475.37,112.35 L477.81,112.62 L480.26,112.90 L482.70,113.18 L485.14,113.47 L487.58,113.76 L490.03,114.05 L492.47,114.35 L494.91,114.66 L497.35,114.97 L499.80,115.28 L502.24,115.61 L504.68,115.93 L507.13,116.26 L509.57,116.60 L512.01,116.95 L514.45,117.30 L516.90,117.66 L519.34,118.02 L521.78,118.39 L524.22,118.77 L526.67,119.16 L529.11,119.55" stroke="#d69d12" stroke-width="1.8" stroke-dasharray="4.25,2.55"/>
<path d="M336.14,98.72 L338.58,99.77 L341.02,100.81 L343.47,101.86 L345.91,102.90 L348.35,103.95 L350.79,105.00 L353.24,106.04 L355.68,107.08 L358.12,108.13 L360.56,109.17 L363.01,110.21 L365.45,111.24 L367.89,112.28 L370.34,113.31 L372.78,114.34 L375.22,115.37 L377.66,116.40 L380.11,117.42 L382.55,118.44 L384.99,119.45 L387.43,120.46 L389.88,121.47 L392.32,122.47 L394.76,123.46 L397.20,124.46 L399.65,125.44 L402.09,126.42 L404.53,127.40 L406.98,128.37 L409.42,129.33 L411.86,130.29 L414.30,131.24 L416.75,132.18 L419.19,133.12 L421.63,134.05 L424.07,134.97 L426.52,135.88 L428.96,136.79 L431.40,137.68 L433.85,138.57 L436.29,139.45 L438.73,140.32 L441.17,141.18 L443.62,142.03 L446.06,142.88 L448.50,143.71 L450.94,144.53 L453.39,145.34 L455.83,146.14 L458.27,146.93 L460.71,147.71 L463.16,148.47 L465.60,149.23 L468.04,149.97 L470.49,150.70 L472.93,151.42 L475.37,152.12 L477.81,152.82 L480.26,153.50 L482.70,154.16 L485.14,154.81 L487.58,155.45 L490.03,156.08 L492.47,156.69 L494.91,157.28 L497.35,157.86 L499.80,158.43 L502.24,158.98 L504.68,159.51 L507.13,160.03 L509.57,160.53 L512.01,161.02 L514.45,161.49 L516.90,161.94 L519.34,162.38 L521.78,162.80 L524.22,163.20 L526.67,163.58 L529.11,163.95" stroke="#b45cff" stroke-width="1.8" stroke-dasharray="6.80,4.08,1.87,4.08,1.87,4.08"/>
<path d="M336.14,98.25 L338.58,97.84 L341.02,97.43 L343.47,97.02 L345.91,96.61 L348.35,96.20 L350.79,95.79 L353.24,95.37 L355.68,94.96 L358.12,94.54 L360.56,94.13 L363.01,93.71 L365.45,93.30 L367.89,92.88 L370.34,92.47 L372.78,92.05 L375.22,91.64 L377.66,91.23 L380.11,90.82 L382.55,90.40 L384.99,90.00 L387.43,89.59 L389.88,89.18 L392.32,88.77 L394.76,88.37 L397.20,87.97 L399.65,87.57 L402.09,87.17 L404.53,86.77 L406.98,86.38 L409.42,85.99 L411.86,85.60 L414.30,85.22 L416.75,84.83 L419.19,84.45 L421.63,84.08 L424.07,83.70 L426.52,83.33 L428.96,82.97 L431.40,82.60 L433.85,82.24 L436.29,81.89 L438.73,81.54 L441.17,81.19 L443.62,80.84 L446.06,80.51 L448.50,80.17 L450.94,79.84 L453.39,79.52 L455.83,79.20 L458.27,78.88 L460.71,78.57 L463.16,78.27 L465.60,77.97 L468.04,77.68 L470.49,77.39 L472.93,77.11 L475.37,76.83 L477.81,76.56 L480.26,76.30 L482.70,76.04 L485.14,75.79 L487.58,75.55 L490.03,75.31 L492.47,75.08 L494.91,74.85 L497.35,74.64 L499.80,74.43 L502.24,74.23 L504.68,74.03 L507.13,73.85 L509.57,73.67 L512.01,73.50 L514.45,73.33 L516.90,73.18 L519.34,73.03 L521.78,72.90 L524.22,72.77 L526.67,72.65 L529.11,72.54" stroke="#1fa34d" stroke-width="1.8" stroke-dasharray="8.92,4.25,1.87,4.25"/>
<path d="M336.14,98.28 L338.58,99.13 L341.02,99.98 L343.47,100.82 L345.91,101.65 L348.35,102.47 L350.79,103.29 L353.24,104.11 L355.68,104.92 L358.12,105.72 L360.56,106.51 L363.01,107.30 L365.45,108.08 L367.89,108.86 L370.34,109.63 L372.78,110.39 L375.22,111.14 L377.66,111.89 L380.11,112.63 L382.55,113.37 L384.99,114.09 L387.43,114.81 L389.88,115.53 L392.32,116.23 L394.76,116.93 L397.20,117.62 L399.65,118.31 L402.09,118.98 L404.53,119.65 L406.98,120.31 L409.42,120.97 L411.86,121.62 L414.30,122.25 L416.75,122.89 L419.19,123.51 L421.63,124.12 L424.07,124.73 L426.52,125.33 L428.96,125.92 L431.40,126.51 L433.85,127.08 L436.29,127.65 L438.73,128.21 L441.17,128.76 L443.62,129.30 L446.06,129.83 L448.50,130.36 L450.94,130.88 L453.39,131.38 L455.83,131.88 L458.27,132.37 L460.71,132.86 L463.16,133.33 L465.60,133.79 L468.04,134.25 L470.49,134.70 L472.93,135.13 L475.37,135.56 L477.81,135.98 L480.26,136.39 L482.70,136.79 L485.14,137.18 L487.58,137.57 L490.03,137.94 L492.47,138.30 L494.91,138.66 L497.35,139.00 L499.80,139.33 L502.24,139.66 L504.68,139.97 L507.13,140.28 L509.57,140.57 L512.01,140.86 L514.45,141.14 L516.90,141.40 L519.34,141.66 L521.78,141.90 L524.22,142.14 L526.67,142.36 L529.11,142.57" stroke="#1f66ff" stroke-width="1.8" stroke-dasharray="2.55,6.80"/>
<path d="M336.14,98.25 L338.52,98.73 L340.90,99.20 L343.28,99.67 L345.66,100.14 L348.04,100.60 L350.42,101.06 L352.80,101.52 L355.18,101.98 L357.56,102.43 L359.94,102.89 L362.32,103.33 L364.70,103.78 L367.08,104.23 L369.46,104.67 L371.84,105.11 L374.22,105.55 L376.60,105.98 L378.98,106.41 L381.36,106.85 L383.74,107.28 L386.12,107.70 L388.50,108.13 L390.88,108.56 L393.26,108.98 L395.64,109.40 L398.02,109.82 L400.40,110.24 L402.78,110.66 L405.16,111.07 L407.54,111.49 L409.92,111.90 L412.30,112.31 L414.68,112.73 L417.06,113.14 L419.44,113.55 L421.82,113.95 L424.20,114.36 L426.58,114.77 L428.96,115.18 L431.34,115.58 L433.72,115.99 L436.10,116.39 L438.48,116.80 L440.86,117.20 L443.24,117.60 L445.62,118.01 L448.00,118.41 L450.38,118.81 L452.76,119.22 L455.14,119.62 L457.52,120.02 L459.90,120.43 L462.28,120.83 L464.66,121.23 L467.04,121.64 L469.42,122.04 L471.80,122.45 L474.18,122.85 L476.56,123.26 L478.94,123.66 L481.32,124.07 L483.70,124.48 L486.08,124.89 L488.46,125.30 L490.84,125.71 L493.22,126.12 L495.60,126.53 L497.98,126.95 L500.36,127.36 L502.74,127.78 L505.12,128.19 L507.50,128.61 L509.88,129.03 L512.26,129.46 L514.64,129.88 L517.02,130.30 L519.40,130.73 L521.78,131.16 L524.16,131.59" stroke="#ff2a2a" stroke-width="1.8" stroke-dasharray="7.39,7.91"/>
<path d="M336.14,98.29 L338.58,99.61 L341.02,100.93 L343.47,102.24 L345.91,103.54 L348.35,104.84 L350.79,106.13 L353.24,107.41 L355.68,108.68 L358.12,109.95 L360.56,111.21 L363.01,112.46 L365.45,113.70 L367.89,114.93 L370.34,116.16 L372.78,117.37 L375.22,118.58 L377.66,119.78 L380.11,120.97 L382.55,122.15 L384.99,123.32 L387.43,124.48 L389.88,125.63 L392.32,126.77 L394.76,127.90 L397.20,129.02 L399.65,130.13 L402.09,131.23 L404.53,132.32 L406.98,133.40 L409.42,134.46 L411.86,135.52 L414.30,136.56 L416.75,137.59 L419.19,138.61 L421.63,139.62 L424.07,140.62 L426.52,141.60 L428.96,142.57 L431.40,143.53 L433.85,144.47 L436.29,145.41 L438.73,146.32 L441.17,147.23 L443.62,148.12 L446.06,149.00 L448.50,149.86 L450.94,150.71 L453.39,151.55 L455.83,152.37 L458.27,153.18 L460.71,153.97 L463.16,154.75 L465.60,155.51 L468.04,156.26 L470.49,156.99 L472.93,157.71 L475.37,158.41 L477.81,159.10 L480.26,159.77 L482.70,160.42 L485.14,161.06 L487.58,161.68 L490.03,162.28 L492.47,162.87 L494.91,163.44 L497.35,163.99 L499.80,164.52 L502.24,165.04 L504.68,165.54 L507.13,166.02 L509.57,166.49 L512.01,166.93 L514.45,167.36 L516.90,167.77 L519.34,168.16 L521.78,168.53 L524.22,168.88 L526.67,169.22 L529.11,169.53" stroke="#3a3a3a" stroke-width="1.8"/>
</g>
<rect x="327.3" y="13.2" width="47.19999999999999" height="68.2" fill="#ffffff" stroke="#c8c8c8" stroke-width="0.8"/>
<line x1="329" y1="18.10" x2="344.5" y2="18.10" stroke="#3a3a3a" stroke-width="1.8"/>
<text x="346" y="20.40" font-family='"Liberation Sans", sans-serif' font-weight="bold" font-size="6.38" stroke="#000" stroke-width="0.18" textLength="28.00" lengthAdjust="spacingAndGlyphs">532nm,TM</text>
<line x1="329" y1="26.49" x2="344.5" y2="26.49" stroke="#ff2a2a" stroke-width="1.8" stroke-dasharray="7.39,7.91"/>
<text x="346" y="28.79" font-family='"Liberation Sans", sans-serif' font-weight="bold" font-size="6.38" stroke="#000" stroke-width="0.18" textLength="28.00" lengthAdjust="spacingAndGlyphs">633nm,TM</text>
<line x1="329" y1="34.88" x2="344.5" y2="34.88" stroke="#1f66ff" stroke-width="1.8" stroke-dasharray="2.55,6.80"/>
<text x="346" y="37.18" font-family='"Liberation Sans", sans-serif' font-weight="bold" font-size="6.38" stroke="#000" stroke-width="0.18" textLength="28.00" lengthAdjust="spacingAndGlyphs">775nm,TM</text>
<line x1="329" y1="43.27" x2="344.5" y2="43.27" stroke="#1fa34d" stroke-width="1.8" stroke-dasharray="8.92,4.25,1.87,4.25"/>
<text x="346" y="45.57" font-family='"Liberation Sans", sans-serif' font-weight="bold" font-size="6.38" stroke="#000" stroke-width="0.18" textLength="28.00" lengthAdjust="spacingAndGlyphs">850nm,TM</text>
<line x1="329" y1="51.66" x2="344.5" y2="51.66" stroke="#b45cff" stroke-width="1.8" stroke-dasharray="6.80,4.08,1.87,4.08,1.87,4.08"/>
<text x="346" y="53.96" font-family='"Liberation Sans", sans-serif' font-weight="bold" font-size="6.38" stroke="#000" stroke-width="0.18" textLength="25.20" lengthAdjust="spacingAndGlyphs">532nm,TE</text>
<line x1="329" y1="60.05" x2="344.5" y2="60.05" stroke="#d69d12" stroke-width="1.8" stroke-dasharray="4.25,2.55"/>
<text x="346" y="62.35" font-family='"Liberation Sans", sans-serif' font-weight="bold" font-size="6.38" stroke="#000" stroke-width="0.18" textLength="25.20" lengthAdjust="spacingAndGlyphs">633nm,TE</text>
<line x1="329" y1="68.44" x2="344.5" y2="68.44" stroke="#12dcec" stroke-width="1.8" stroke-dasharray="1.70,1.70"/>
<text x="346" y="70.74" font-family='"Liberation Sans", sans-serif' font-weight="bold" font-size="6.38" stroke="#000" stroke-width="0.18" textLength="25.20" lengthAdjust="spacingAndGlyphs">775nm,TE</text>
<line x1="329" y1="76.83" x2="344.5" y2="76.83" stroke="#7d3232" stroke-width="1.8" stroke-dasharray="6.80,2.04,1.36,2.04"/>
<text x="346" y="79.13" font-family='"Liberation Sans", sans-serif' font-weight="bold" font-size="6.38" stroke="#000" stroke-width="0.18" textLength="25.20" lengthAdjust="spacingAndGlyphs">850nm,TE</text>
<rect x="325.5" y="14.5" width="214.0" height="163.7" fill="none" stroke="#7a7a7a" stroke-width="1.2"/>
<line x1="333.66" y1="178.20" x2="333.66" y2="180.70" stroke="#555" stroke-width="1"/>
<line x1="358.40" y1="178.20" x2="358.40" y2="180.70" stroke="#555" stroke-width="1"/>
<line x1="383.14" y1="178.20" x2="383.14" y2="180.70" stroke="#555" stroke-width="1"/>
<line x1="407.88" y1="178.20" x2="407.88" y2="180.70" stroke="#555" stroke-width="1"/>
<line x1="432.62" y1="178.20" x2="432.62" y2="180.70" stroke="#555" stroke-width="1"/>
<line x1="457.36" y1="178.20" x2="457.36" y2="180.70" stroke="#555" stroke-width="1"/>
<line x1="482.10" y1="178.20" x2="482.10" y2="180.70" stroke="#555" stroke-width="1"/>
<line x1="506.84" y1="178.20" x2="506.84" y2="180.70" stroke="#555" stroke-width="1"/>
<line x1="531.58" y1="178.20" x2="531.58" y2="180.70" stroke="#555" stroke-width="1"/>
<line x1="346.03" y1="178.20" x2="346.03" y2="179.70" stroke="#555" stroke-width="1"/>
<line x1="370.77" y1="178.20" x2="370.77" y2="179.70" stroke="#555" stroke-width="1"/>
<line x1="395.51" y1="178.20" x2="395.51" y2="179.70" stroke="#555" stroke-width="1"/>
<line x1="420.25" y1="178.20" x2="420.25" y2="179.70" stroke="#555" stroke-width="1"/>
<line x1="444.99" y1="178.20" x2="444.99" y2="179.70" stroke="#555" stroke-width="1"/>
<line x1="469.73" y1="178.20" x2="469.73" y2="179.70" stroke="#555" stroke-width="1"/>
<line x1="494.47" y1="178.20" x2="494.47" y2="179.70" stroke="#555" stroke-width="1"/>
<line x1="519.21" y1="178.20" x2="519.21" y2="179.70" stroke="#555" stroke-width="1"/>
<line x1="323.00" y1="175.13" x2="325.50" y2="175.13" stroke="#555" stroke-width="1"/>
<line x1="323.00" y1="155.91" x2="325.50" y2="155.91" stroke="#555" stroke-width="1"/>
<line x1="323.00" y1="136.70" x2="325.50" y2="136.70" stroke="#555" stroke-width="1"/>
<line x1="323.00" y1="117.48" x2="325.50" y2="117.48" stroke="#555" stroke-width="1"/>
<line x1="323.00" y1="98.27" x2="325.50" y2="98.27" stroke="#555" stroke-width="1"/>
<line x1="323.00" y1="79.06" x2="325.50" y2="79.06" stroke="#555" stroke-width="1"/>
<line x1="323.00" y1="59.84" x2="325.50" y2="59.84" stroke="#555" stroke-width="1"/>
<line x1="323.00" y1="40.63" x2="325.50" y2="40.63" stroke="#555" stroke-width="1"/>
<line x1="323.00" y1="21.42" x2="325.50" y2="21.42" stroke="#555" stroke-width="1"/>
<line x1="324.00" y1="165.52" x2="325.50" y2="165.52" stroke="#555" stroke-width="1"/>
<line x1="324.00" y1="146.31" x2="325.50" y2="146.31" stroke="#555" stroke-width="1"/>
<line x1="324.00" y1="127.09" x2="325.50" y2="127.09" stroke="#555" stroke-width="1"/>
<line x1="324.00" y1="107.88" x2="325.50" y2="107.88" stroke="#555" stroke-width="1"/>
<line x1="324.00" y1="88.66" x2="325.50" y2="88.66" stroke="#555" stroke-width="1"/>
<line x1="324.00" y1="69.45" x2="325.50" y2="69.45" stroke="#555" stroke-width="1"/>
<line x1="324.00" y1="50.24" x2="325.50" y2="50.24" stroke="#555" stroke-width="1"/>
<line x1="324.00" y1="31.02" x2="325.50" y2="31.02" stroke="#555" stroke-width="1"/>
<text x="333.66" y="192.00" text-anchor="middle" font-family='"Liberation Sans", sans-serif' font-weight="bold" font-size="10.5" stroke="#000" stroke-width="0.2" textLength="6.42" lengthAdjust="spacingAndGlyphs">0</text>
<text x="358.40" y="192.00" text-anchor="middle" font-family='"Liberation Sans", sans-serif' font-weight="bold" font-size="10.5" stroke="#000" stroke-width="0.2" textLength="12.84" lengthAdjust="spacingAndGlyphs">10</text>
<text x="383.14" y="192.00" text-anchor="middle" font-family='"Liberation Sans", sans-serif' font-weight="bold" font-size="10.5" stroke="#000" stroke-width="0.2" textLength="12.84" lengthAdjust="spacingAndGlyphs">20</text>
<text x="407.88" y="192.00" text-anchor="middle" font-family='"Liberation Sans", sans-serif' font-weight="bold" font-size="10.5" stroke="#000" stroke-width="0.2" textLength="12.84" lengthAdjust="spacingAndGlyphs">30</text>
<text x="432.62" y="192.00" text-anchor="middle" font-family='"Liberation Sans", sans-serif' font-weight="bold" font-size="10.5" stroke="#000" stroke-width="0.2" textLength="12.84" lengthAdjust="spacingAndGlyphs">40</text>
<text x="457.36" y="192.00" text-anchor="middle" font-family='"Liberation Sans", sans-serif' font-weight="bold" font-size="10.5" stroke="#000" stroke-width="0.2" textLength="12.84" lengthAdjust="spacingAndGlyphs">50</text>
<text x="482.10" y="192.00" text-anchor="middle" font-family='"Liberation Sans", sans-serif' font-weight="bold" font-size="10.5" stroke="#000" stroke-width="0.2" textLength="12.84" lengthAdjust="spacingAndGlyphs">60</text>
<text x="506.84" y="192.00" text-anchor="middle" font-family='"Liberation Sans", sans-serif' font-weight="bold" font-size="10.5" stroke="#000" stroke-width="0.2" textLength="12.84" lengthAdjust="spacingAndGlyphs">70</text>
<text x="531.58" y="192.00" text-anchor="middle" font-family='"Liberation Sans", sans-serif' font-weight="bold" font-size="10.5" stroke="#000" stroke-width="0.2" textLength="12.84" lengthAdjust="spacingAndGlyphs">80</text>
<text x="321.00" y="178.41" text-anchor="end" font-family='"Liberation Sans", sans-serif' font-weight="bold" font-size="10.5" stroke="#000" stroke-width="0.2" textLength="23.11" lengthAdjust="spacingAndGlyphs">-200</text>
<text x="321.00" y="159.19" text-anchor="end" font-family='"Liberation Sans", sans-serif' font-weight="bold" font-size="10.5" stroke="#000" stroke-width="0.2" textLength="23.11" lengthAdjust="spacingAndGlyphs">-150</text>
<text x="321.00" y="139.98" text-anchor="end" font-family='"Liberation Sans", sans-serif' font-weight="bold" font-size="10.5" stroke="#000" stroke-width="0.2" textLength="23.11" lengthAdjust="spacingAndGlyphs">-100</text>
<text x="321.00" y="120.76" text-anchor="end" font-family='"Liberation Sans", sans-serif' font-weight="bold" font-size="10.5" stroke="#000" stroke-width="0.2" textLength="16.69" lengthAdjust="spacingAndGlyphs">-50</text>
<text x="321.00" y="101.55" text-anchor="end" font-family='"Liberation Sans", sans-serif' font-weight="bold" font-size="10.5" stroke="#000" stroke-width="0.2" textLength="6.42" lengthAdjust="spacingAndGlyphs">0</text>
<text x="321.00" y="82.34" text-anchor="end" font-family='"Liberation Sans", sans-serif' font-weight="bold" font-size="10.5" stroke="#000" stroke-width="0.2" textLength="12.84" lengthAdjust="spacingAndGlyphs">50</text>
<text x="321.00" y="63.12" text-anchor="end" font-family='"Liberation Sans", sans-serif' font-weight="bold" font-size="10.5" stroke="#000" stroke-width="0.2" textLength="19.27" lengthAdjust="spacingAndGlyphs">100</text>
<text x="321.00" y="43.91" text-anchor="end" font-family='"Liberation Sans", sans-serif' font-weight="bold" font-size="10.5" stroke="#000" stroke-width="0.2" textLength="19.27" lengthAdjust="spacingAndGlyphs">150</text>
<text x="321.00" y="24.70" text-anchor="end" font-family='"Liberation Sans", sans-serif' font-weight="bold" font-size="10.5" stroke="#000" stroke-width="0.2" textLength="19.27" lengthAdjust="spacingAndGlyphs">200</text>
<text x="411.8" y="203" font-family='"Liberation Serif", serif' font-weight="bold" font-size="12" textLength="38.2" lengthAdjust="spacingAndGlyphs">B (nm)</text>
<text transform="translate(300.3,100.9) rotate(-90)" text-anchor="middle" font-family='"Liberation Sans", sans-serif' font-weight="bold" font-size="11" stroke="#000" stroke-width="0.25" textLength="40" lengthAdjust="spacingAndGlyphs">&#916;x (nm)</text>
<text x="274" y="32.3" font-family='"Liberation Serif", serif' font-weight="bold" font-size="19.3" textLength="24" lengthAdjust="spacingAndGlyphs">(b)</text>
<line x1="65.17" y1="219.00" x2="65.17" y2="382.20" stroke="#ebebeb" stroke-width="0.8"/>
<line x1="112.63" y1="219.00" x2="112.63" y2="382.20" stroke="#ebebeb" stroke-width="0.8"/>
<line x1="160.10" y1="219.00" x2="160.10" y2="382.20" stroke="#ebebeb" stroke-width="0.8"/>
<line x1="207.57" y1="219.00" x2="207.57" y2="382.20" stroke="#ebebeb" stroke-width="0.8"/>
<line x1="255.03" y1="219.00" x2="255.03" y2="382.20" stroke="#ebebeb" stroke-width="0.8"/>
<line x1="53.30" y1="364.07" x2="266.90" y2="364.07" stroke="#ebebeb" stroke-width="0.8"/>
<line x1="53.30" y1="327.80" x2="266.90" y2="327.80" stroke="#ebebeb" stroke-width="0.8"/>
<line x1="53.30" y1="291.53" x2="266.90" y2="291.53" stroke="#ebebeb" stroke-width="0.8"/>
<line x1="53.30" y1="255.27" x2="266.90" y2="255.27" stroke="#ebebeb" stroke-width="0.8"/>
<clipPath id="cc"><rect x="53.3" y="219.0" width="213.59999999999997" height="163.2"/></clipPath>
<g clip-path="url(#cc)" fill="none" stroke-linejoin="round">
<path d="M67.54,327.80 L68.46,327.02 L69.39,326.25 L70.31,325.50 L71.23,324.76 L72.16,324.05 L73.08,323.38 L74.00,322.75 L74.92,322.17 L75.85,321.64 L76.77,321.17 L77.69,320.72 L78.62,320.27 L79.54,319.83 L80.46,319.39 L81.39,318.96 L82.31,318.54 L83.23,318.12 L84.16,317.71 L85.08,317.32 L86.00,316.93 L86.93,316.56 L87.85,316.21 L88.77,315.86 L89.69,315.54 L90.62,315.23 L91.54,314.94 L92.46,314.67 L93.39,314.42 L94.31,314.19 L95.23,313.98 L96.16,313.79 L97.08,313.60 L98.00,313.42 L98.93,313.24 L99.85,313.07 L100.77,312.90 L101.69,312.73 L102.62,312.57 L103.54,312.41 L104.46,312.26 L105.39,312.10 L106.31,311.95 L107.23,311.79 L108.16,311.64 L109.08,311.49 L110.00,311.33 L110.93,311.18 L111.85,311.02 L112.77,310.87 L113.69,310.71 L114.62,310.55 L115.54,310.38 L116.46,310.21 L117.39,310.04 L118.31,309.87 L119.23,309.69 L120.16,309.51 L121.08,309.33 L122.00,309.15 L122.93,308.98 L123.85,308.80 L124.77,308.62 L125.70,308.44 L126.62,308.27 L127.54,308.10 L128.46,307.94 L129.39,307.78 L130.31,307.62 L131.23,307.47 L132.16,307.33 L133.08,307.19 L134.00,307.06 L134.93,306.94 L135.85,306.83 L136.77,306.72 L137.70,306.62 L138.62,306.53 L139.54,306.45 L140.46,306.37 L141.39,306.30 L142.31,306.24 L143.23,306.18 L144.16,306.13 L145.08,306.09 L146.00,306.05 L146.93,306.02 L147.85,306.02 L148.77,306.05 L149.70,306.09 L150.62,306.16 L151.54,306.26 L152.46,306.37 L153.39,306.49 L154.31,306.64 L155.23,306.80 L156.16,306.97 L157.08,307.16 L158.00,307.35 L158.93,307.55 L159.85,307.76 L160.77,307.98 L161.70,308.20 L162.62,308.47 L163.54,308.85 L164.47,309.32 L165.39,309.87 L166.31,310.47 L167.23,311.10 L168.16,311.76 L169.08,312.42 L170.00,313.07 L170.93,313.72 L171.85,314.40 L172.77,315.11 L173.70,315.85 L174.62,316.60 L175.54,317.37 L176.47,318.14 L177.39,318.92 L178.31,319.69 L179.23,320.44 L180.16,321.19 L181.08,321.91 L182.00,322.60 L182.93,323.26 L183.85,323.92 L184.77,324.60 L185.70,325.29 L186.62,325.99 L187.54,326.68 L188.47,327.35 L189.39,327.99 L190.31,328.60 L191.23,329.16 L192.16,329.66 L193.08,330.09 L194.00,330.45 L194.93,330.73 L195.85,330.91 L196.77,331.01 L197.70,331.05 L198.62,331.04 L199.54,330.99 L200.47,330.88 L201.39,330.74 L202.31,330.56 L203.24,330.36 L204.16,330.12 L205.08,329.86 L206.00,329.58 L206.93,329.28 L207.85,328.94 L208.77,328.57 L209.70,328.18 L210.62,327.77 L211.54,327.34 L212.47,326.91 L213.39,326.47 L214.31,326.03 L215.24,325.60 L216.16,325.18 L217.08,324.77 L218.00,324.38 L218.93,324.02 L219.85,323.69 L220.77,323.39 L221.70,323.13 L222.62,322.89 L223.54,322.68 L224.47,322.49 L225.39,322.32 L226.31,322.18 L227.24,322.07 L228.16,321.99 L229.08,321.94 L230.00,321.93 L230.93,321.96 L231.85,322.03 L232.77,322.17 L233.70,322.37 L234.62,322.64 L235.54,322.96 L236.47,323.32 L237.39,323.72 L238.31,324.14 L239.24,324.58 L240.16,325.03 L241.08,325.49 L242.01,325.93 L242.93,326.41 L243.85,326.93 L244.77,327.49 L245.70,328.09 L246.62,328.72 L247.54,329.37 L248.47,330.04 L249.39,330.73 L250.31,331.44 L251.24,332.15" stroke="#7d3232" stroke-width="2.0" stroke-dasharray="8.00,2.40,1.60,2.40"/>
<path d="M67.54,327.80 L68.47,327.79 L69.40,327.78 L70.33,327.77 L71.27,327.77 L72.20,327.76 L73.13,327.75 L74.06,327.75 L74.99,327.74 L75.92,327.74 L76.85,327.74 L77.79,327.73 L78.72,327.73 L79.65,327.73 L80.58,327.73 L81.51,327.73 L82.44,327.73 L83.37,327.73 L84.31,327.73 L85.24,327.74 L86.17,327.74 L87.10,327.74 L88.03,327.75 L88.96,327.75 L89.89,327.76 L90.83,327.77 L91.76,327.77 L92.69,327.78 L93.62,327.79 L94.55,327.80 L95.48,327.80 L96.41,327.82 L97.35,327.83 L98.28,327.84 L99.21,327.86 L100.14,327.88 L101.07,327.90 L102.00,327.92 L102.93,327.95 L103.87,327.97 L104.80,328.00 L105.73,328.02 L106.66,328.05 L107.59,328.08 L108.52,328.11 L109.45,328.14 L110.39,328.17 L111.32,328.21 L112.25,328.24 L113.18,328.27 L114.11,328.30 L115.04,328.34 L115.98,328.37 L116.91,328.40 L117.84,328.43 L118.77,328.46 L119.70,328.49 L120.63,328.52 L121.56,328.55 L122.50,328.59 L123.43,328.63 L124.36,328.68 L125.29,328.73 L126.22,328.78 L127.15,328.84 L128.08,328.90 L129.02,328.96 L129.95,329.03 L130.88,329.10 L131.81,329.17 L132.74,329.24 L133.67,329.31 L134.60,329.39 L135.54,329.47 L136.47,329.54 L137.40,329.62 L138.33,329.75 L139.26,329.94 L140.19,330.20 L141.12,330.52 L142.06,330.87 L142.99,331.25 L143.92,331.65 L144.85,332.06 L145.78,332.47 L146.71,332.86 L147.64,333.23 L148.58,333.56 L149.51,333.85 L150.44,334.08 L151.37,334.24 L152.30,334.32 L153.23,334.30 L154.16,334.14 L155.10,333.84 L156.03,333.41 L156.96,332.88 L157.89,332.27 L158.82,331.59 L159.75,330.86 L160.68,330.10 L161.62,329.33 L162.55,328.55 L163.48,327.80 L164.41,327.09 L165.34,326.43 L166.27,325.85 L167.20,325.36 L168.14,324.99 L169.07,324.70 L170.00,324.42 L170.93,324.15 L171.86,323.88 L172.79,323.63 L173.72,323.38 L174.66,323.15 L175.59,322.93 L176.52,322.72 L177.45,322.54 L178.38,322.37 L179.31,322.23 L180.24,322.11 L181.18,322.02 L182.11,321.96 L183.04,321.92 L183.97,321.92 L184.90,321.96 L185.83,322.03 L186.76,322.19 L187.70,322.43 L188.63,322.73 L189.56,323.06 L190.49,323.41 L191.42,323.75 L192.35,324.05 L193.28,324.30 L194.22,324.47 L195.15,324.55 L196.08,324.51 L197.01,324.40 L197.94,324.24 L198.87,324.04 L199.81,323.81 L200.74,323.54 L201.67,323.25 L202.60,322.94 L203.53,322.61 L204.46,322.28 L205.39,321.95 L206.33,321.62 L207.26,321.31 L208.19,321.01 L209.12,320.73 L210.05,320.44 L210.98,320.15 L211.91,319.85 L212.85,319.55 L213.78,319.25 L214.71,318.95 L215.64,318.65 L216.57,318.35 L217.50,318.06 L218.43,317.77 L219.37,317.49 L220.30,317.22 L221.23,316.95 L222.16,316.69 L223.09,316.44 L224.02,316.19 L224.95,315.96 L225.89,315.73 L226.82,315.52 L227.75,315.32 L228.68,315.13 L229.61,314.96 L230.54,314.80 L231.47,314.66 L232.41,314.55 L233.34,314.45 L234.27,314.37 L235.20,314.40 L236.13,314.56 L237.06,314.84 L237.99,315.22 L238.93,315.69 L239.86,316.23 L240.79,316.82 L241.72,317.45 L242.65,318.10 L243.58,318.76 L244.51,319.41 L245.45,320.12 L246.38,320.98 L247.31,321.99 L248.24,323.12 L249.17,324.35 L250.10,325.65 L251.03,327.00 L251.97,328.39 L252.90,329.79" stroke="#12dcec" stroke-width="2.0" stroke-dasharray="2.00,2.00"/>
<path d="M67.54,327.80 L68.46,328.09 L69.38,328.37 L70.29,328.64 L71.21,328.91 L72.13,329.18 L73.05,329.43 L73.97,329.68 L74.89,329.92 L75.80,330.16 L76.72,330.38 L77.64,330.60 L78.56,330.82 L79.48,331.03 L80.40,331.24 L81.31,331.44 L82.23,331.62 L83.15,331.79 L84.07,331.95 L84.99,332.08 L85.91,332.19 L86.82,332.24 L87.74,332.25 L88.66,332.20 L89.58,332.12 L90.50,331.99 L91.42,331.83 L92.33,331.64 L93.25,331.42 L94.17,331.18 L95.09,330.91 L96.01,330.52 L96.93,330.03 L97.84,329.45 L98.76,328.82 L99.68,328.16 L100.60,327.48 L101.52,326.82 L102.44,326.18 L103.35,325.55 L104.27,324.91 L105.19,324.26 L106.11,323.60 L107.03,322.94 L107.95,322.26 L108.86,321.58 L109.78,320.89 L110.70,320.20 L111.62,319.51 L112.54,318.80 L113.46,318.07 L114.37,317.34 L115.29,316.60 L116.21,315.86 L117.13,315.13 L118.05,314.41 L118.97,313.71 L119.88,313.00 L120.80,312.23 L121.72,311.44 L122.64,310.65 L123.56,309.88 L124.48,309.15 L125.39,308.49 L126.31,307.92 L127.23,307.47 L128.15,307.16 L129.07,306.96 L129.99,306.77 L130.90,306.60 L131.82,306.44 L132.74,306.30 L133.66,306.17 L134.58,306.05 L135.50,305.96 L136.41,305.87 L137.33,305.81 L138.25,305.76 L139.17,305.72 L140.09,305.71 L141.01,305.71 L141.92,305.72 L142.84,305.76 L143.76,305.81 L144.68,305.87 L145.60,305.96 L146.52,306.06 L147.43,306.18 L148.35,306.30 L149.27,306.44 L150.19,306.58 L151.11,306.73 L152.03,306.88 L152.94,307.05 L153.86,307.21 L154.78,307.38 L155.70,307.55 L156.62,307.73 L157.54,307.91 L158.45,308.08 L159.37,308.26 L160.29,308.44 L161.21,308.62 L162.13,308.81 L163.05,309.00 L163.96,309.21 L164.88,309.42 L165.80,309.64 L166.72,309.87 L167.64,310.12 L168.56,310.38 L169.47,310.65 L170.39,310.94 L171.31,311.25 L172.23,311.58 L173.15,311.96 L174.07,312.41 L174.98,312.91 L175.90,313.46 L176.82,314.04 L177.74,314.65 L178.66,315.28 L179.58,315.93 L180.49,316.57 L181.41,317.21 L182.33,317.83 L183.25,318.42 L184.17,319.02 L185.09,319.61 L186.00,320.20 L186.92,320.79 L187.84,321.39 L188.76,322.00 L189.68,322.61 L190.60,323.24 L191.51,323.89 L192.43,324.55 L193.35,325.23 L194.27,325.93 L195.19,326.66 L196.11,327.42 L197.02,328.25 L197.94,329.14 L198.86,330.08 L199.78,331.05 L200.70,332.02 L201.62,332.99 L202.53,333.94 L203.45,334.84 L204.37,335.72 L205.29,336.58 L206.21,337.44 L207.13,338.28 L208.04,339.12 L208.96,339.95 L209.88,340.77 L210.80,341.60 L211.72,342.42 L212.64,343.24 L213.55,344.07 L214.47,344.90 L215.39,345.73 L216.31,346.58 L217.23,347.43 L218.15,348.29 L219.06,349.16 L219.98,350.04 L220.90,350.94 L221.82,351.86 L222.74,352.80 L223.66,353.76 L224.57,354.74 L225.49,355.73 L226.41,356.74 L227.33,357.75 L228.25,358.76 L229.17,359.77 L230.08,360.79 L231.00,361.79 L231.92,362.79 L232.84,363.78 L233.76,364.75 L234.68,365.70 L235.59,366.62 L236.51,367.53 L237.43,368.42 L238.35,369.29 L239.27,370.16 L240.19,371.03 L241.10,371.90 L242.02,372.78 L242.94,373.67 L243.86,374.58 L244.78,375.51 L245.70,376.47 L246.61,377.46 L247.53,378.50 L248.45,379.66 L249.37,380.90 L250.29,382.20" stroke="#d69d12" stroke-width="2.0" stroke-dasharray="5.00,3.00"/>
<path d="M67.54,327.80 L68.47,327.70 L69.39,327.61 L70.32,327.55 L71.24,327.51 L72.17,327.49 L73.09,327.48 L74.02,327.50 L74.94,327.53 L75.87,327.58 L76.79,327.64 L77.72,327.72 L78.65,327.81 L79.57,327.92 L80.50,328.03 L81.42,328.17 L82.35,328.31 L83.27,328.46 L84.20,328.63 L85.12,328.80 L86.05,328.99 L86.98,329.22 L87.90,329.50 L88.83,329.83 L89.75,330.21 L90.68,330.62 L91.60,331.08 L92.53,331.57 L93.45,332.10 L94.38,332.66 L95.30,333.25 L96.23,333.87 L97.16,334.51 L98.08,335.18 L99.01,335.90 L99.93,336.71 L100.86,337.62 L101.78,338.61 L102.71,339.65 L103.63,340.74 L104.56,341.86 L105.48,342.99 L106.41,344.11 L107.34,345.21 L108.26,346.28 L109.19,347.30 L110.11,348.31 L111.04,349.29 L111.96,350.28 L112.89,351.26 L113.81,352.24 L114.74,353.25 L115.66,354.27 L116.59,355.31 L117.52,356.39 L118.44,357.51 L119.37,358.69 L120.29,360.02 L121.22,361.49 L122.14,363.03 L123.07,364.57 L123.99,366.06 L124.92,367.42 L125.85,368.61 L126.77,369.65 L127.70,370.61 L128.62,371.48 L129.55,372.28 L130.47,373.00 L131.40,373.65 L132.32,374.25 L133.25,374.80 L134.17,375.18 L135.10,375.12 L136.03,374.62 L136.95,373.71 L137.88,372.43 L138.80,370.80 L139.73,368.87 L140.65,365.76 L141.58,360.05 L142.50,352.65 L143.43,344.54 L144.35,336.69 L145.28,329.92 L146.21,323.34 L147.13,316.75 L148.06,310.29 L148.98,304.09 L149.91,298.30 L150.83,292.73 L151.76,286.95 L152.68,281.41 L153.61,276.60 L154.54,273.00 L155.46,271.09 L156.39,270.02 L157.31,269.09 L158.24,268.38 L159.16,267.96 L160.09,267.90 L161.01,268.16 L161.94,268.45 L162.86,268.76 L163.79,269.09 L164.72,269.44 L165.64,269.82 L166.57,270.23 L167.49,270.66 L168.42,271.12 L169.34,271.62 L170.27,272.15 L171.19,272.72 L172.12,273.35 L173.04,274.03 L173.97,274.77 L174.90,275.56 L175.82,276.41 L176.75,277.30 L177.67,278.24 L178.60,279.23 L179.52,280.26 L180.45,281.34 L181.37,282.46 L182.30,283.62 L183.23,284.82 L184.15,286.04 L185.08,287.29 L186.00,288.57 L186.93,289.87 L187.85,291.18 L188.78,292.51 L189.70,293.85 L190.63,295.20 L191.55,296.54 L192.48,297.89 L193.41,299.24 L194.33,300.57 L195.26,301.90 L196.18,303.21 L197.11,304.50 L198.03,305.81 L198.96,307.12 L199.88,308.43 L200.81,309.75 L201.73,311.08 L202.66,312.41 L203.59,313.75 L204.51,315.09 L205.44,316.43 L206.36,317.78 L207.29,319.12 L208.21,320.47 L209.14,321.82 L210.06,323.17 L210.99,324.54 L211.91,325.91 L212.84,327.28 L213.77,328.66 L214.69,330.03 L215.62,331.41 L216.54,332.78 L217.47,334.15 L218.39,335.51 L219.32,336.86 L220.24,338.20 L221.17,339.54 L222.10,340.86 L223.02,342.18 L223.95,343.50 L224.87,344.82 L225.80,346.13 L226.72,347.44 L227.65,348.74 L228.57,350.03 L229.50,351.31 L230.42,352.58 L231.35,353.84 L232.28,355.08 L233.20,356.30 L234.13,357.51 L235.05,358.69 L235.98,359.82 L236.90,360.92 L237.83,362.00 L238.75,363.06 L239.68,364.11 L240.60,365.15 L241.53,366.19 L242.46,367.25 L243.38,368.32 L244.31,369.42 L245.23,370.55 L246.16,371.72 L247.08,372.93 L248.01,374.22 L248.93,375.58 L249.86,377.01 L250.79,378.50 L251.71,380.02" stroke="#b45cff" stroke-width="2.0" stroke-dasharray="8.00,4.80,2.20,4.80,2.20,4.80"/>
<path d="M67.54,327.80 L68.47,327.21 L69.40,326.62 L70.33,326.03 L71.27,325.44 L72.20,324.86 L73.13,324.27 L74.06,323.69 L74.99,323.11 L75.92,322.54 L76.85,321.96 L77.79,321.39 L78.72,320.82 L79.65,320.25 L80.58,319.69 L81.51,319.13 L82.44,318.59 L83.37,318.05 L84.31,317.52 L85.24,316.99 L86.17,316.46 L87.10,315.93 L88.03,315.38 L88.96,314.82 L89.89,314.24 L90.83,313.64 L91.76,313.00 L92.69,312.32 L93.62,311.60 L94.55,310.87 L95.48,310.12 L96.41,309.37 L97.35,308.63 L98.28,307.91 L99.21,307.23 L100.14,306.59 L101.07,306.00 L102.00,305.46 L102.93,304.96 L103.87,304.48 L104.80,304.03 L105.73,303.59 L106.66,303.16 L107.59,302.73 L108.52,302.30 L109.45,301.86 L110.39,301.39 L111.32,300.90 L112.25,300.37 L113.18,299.79 L114.11,299.18 L115.04,298.56 L115.98,297.94 L116.91,297.35 L117.84,296.80 L118.77,296.30 L119.70,295.88 L120.63,295.54 L121.56,295.27 L122.50,295.01 L123.43,294.76 L124.36,294.52 L125.29,294.29 L126.22,294.08 L127.15,293.88 L128.08,293.70 L129.02,293.54 L129.95,293.40 L130.88,293.27 L131.81,293.17 L132.74,293.09 L133.67,293.03 L134.60,292.99 L135.54,292.98 L136.47,292.99 L137.40,293.01 L138.33,293.04 L139.26,293.08 L140.19,293.12 L141.12,293.17 L142.06,293.23 L142.99,293.29 L143.92,293.36 L144.85,293.44 L145.78,293.52 L146.71,293.60 L147.64,293.69 L148.58,293.78 L149.51,293.88 L150.44,293.98 L151.37,294.08 L152.30,294.19 L153.23,294.30 L154.16,294.43 L155.10,294.56 L156.03,294.70 L156.96,294.86 L157.89,295.02 L158.82,295.18 L159.75,295.36 L160.68,295.55 L161.62,295.74 L162.55,295.95 L163.48,296.16 L164.41,296.38 L165.34,296.61 L166.27,296.85 L167.20,297.11 L168.14,297.46 L169.07,297.87 L170.00,298.31 L170.93,298.75 L171.86,299.17 L172.79,299.60 L173.72,300.03 L174.66,300.47 L175.59,300.92 L176.52,301.36 L177.45,301.81 L178.38,302.27 L179.31,302.72 L180.24,303.17 L181.18,303.62 L182.11,304.07 L183.04,304.52 L183.97,304.96 L184.90,305.40 L185.83,305.84 L186.76,306.27 L187.70,306.69 L188.63,307.10 L189.56,307.50 L190.49,307.88 L191.42,308.26 L192.35,308.62 L193.28,308.98 L194.22,309.34 L195.15,309.69 L196.08,310.05 L197.01,310.41 L197.94,310.78 L198.87,311.15 L199.81,311.54 L200.74,311.94 L201.67,312.35 L202.60,312.78 L203.53,313.23 L204.46,313.70 L205.39,314.20 L206.33,314.71 L207.26,315.25 L208.19,315.80 L209.12,316.36 L210.05,316.94 L210.98,317.53 L211.91,318.14 L212.85,318.74 L213.78,319.36 L214.71,319.98 L215.64,320.60 L216.57,321.22 L217.50,321.85 L218.43,322.50 L219.37,323.17 L220.30,323.84 L221.23,324.52 L222.16,325.21 L223.09,325.91 L224.02,326.61 L224.95,327.31 L225.89,328.01 L226.82,328.70 L227.75,329.40 L228.68,330.09 L229.61,330.77 L230.54,331.44 L231.47,332.11 L232.41,332.75 L233.34,333.37 L234.27,333.97 L235.20,334.56 L236.13,335.13 L237.06,335.70 L237.99,336.26 L238.93,336.83 L239.86,337.40 L240.79,337.97 L241.72,338.56 L242.65,339.17 L243.58,339.79 L244.51,340.45 L245.45,341.13 L246.38,341.84 L247.31,342.60 L248.24,343.50 L249.17,344.54 L250.10,345.70 L251.03,346.94 L251.97,348.23 L252.90,349.56" stroke="#1fa34d" stroke-width="2.0" stroke-dasharray="10.50,5.00,2.20,5.00"/>
<path d="M67.54,327.80 L68.47,327.81 L69.39,327.82 L70.32,327.83 L71.24,327.84 L72.17,327.85 L73.09,327.86 L74.02,327.88 L74.94,327.89 L75.87,327.91 L76.79,327.92 L77.72,327.94 L78.65,327.96 L79.57,327.98 L80.50,327.99 L81.42,328.01 L82.35,328.03 L83.27,328.05 L84.20,328.07 L85.12,328.09 L86.05,328.11 L86.98,328.12 L87.90,328.14 L88.83,328.16 L89.75,328.18 L90.68,328.20 L91.60,328.23 L92.53,328.26 L93.45,328.29 L94.38,328.32 L95.30,328.35 L96.23,328.38 L97.16,328.41 L98.08,328.44 L99.01,328.47 L99.93,328.50 L100.86,328.53 L101.78,328.54 L102.71,328.54 L103.63,328.53 L104.56,328.51 L105.48,328.47 L106.41,328.42 L107.34,328.36 L108.26,328.29 L109.19,328.21 L110.11,328.12 L111.04,328.02 L111.96,327.91 L112.89,327.80 L113.81,327.62 L114.74,327.32 L115.66,326.93 L116.59,326.46 L117.52,325.92 L118.44,325.34 L119.37,324.73 L120.29,324.12 L121.22,323.50 L122.14,322.91 L123.07,322.36 L123.99,321.84 L124.92,321.32 L125.85,320.79 L126.77,320.27 L127.70,319.74 L128.62,319.20 L129.55,318.67 L130.47,318.13 L131.40,317.58 L132.32,317.03 L133.25,316.48 L134.17,315.91 L135.10,315.34 L136.03,314.76 L136.95,314.17 L137.88,313.57 L138.80,312.96 L139.73,312.34 L140.65,311.70 L141.58,311.03 L142.50,310.34 L143.43,309.63 L144.35,308.89 L145.28,308.14 L146.21,307.38 L147.13,306.61 L148.06,305.84 L148.98,305.06 L149.91,304.29 L150.83,303.53 L151.76,302.77 L152.68,302.03 L153.61,301.30 L154.54,300.59 L155.46,299.91 L156.39,299.26 L157.31,298.62 L158.24,297.97 L159.16,297.32 L160.09,296.67 L161.01,296.03 L161.94,295.40 L162.86,294.79 L163.79,294.21 L164.72,293.66 L165.64,293.14 L166.57,292.66 L167.49,292.23 L168.42,291.86 L169.34,291.54 L170.27,291.25 L171.19,290.97 L172.12,290.71 L173.04,290.48 L173.97,290.28 L174.90,290.13 L175.82,290.04 L176.75,290.02 L177.67,290.08 L178.60,290.20 L179.52,290.32 L180.45,290.47 L181.37,290.63 L182.30,290.80 L183.23,290.99 L184.15,291.19 L185.08,291.40 L186.00,291.61 L186.93,291.84 L187.85,292.06 L188.78,292.30 L189.70,292.54 L190.63,292.78 L191.55,293.02 L192.48,293.26 L193.41,293.50 L194.33,293.73 L195.26,293.96 L196.18,294.19 L197.11,294.42 L198.03,294.64 L198.96,294.88 L199.88,295.11 L200.81,295.35 L201.73,295.60 L202.66,295.85 L203.59,296.11 L204.51,296.38 L205.44,296.67 L206.36,296.96 L207.29,297.27 L208.21,297.59 L209.14,297.93 L210.06,298.30 L210.99,298.71 L211.91,299.14 L212.84,299.60 L213.77,300.08 L214.69,300.58 L215.62,301.11 L216.54,301.65 L217.47,302.20 L218.39,302.77 L219.32,303.35 L220.24,303.94 L221.17,304.53 L222.10,305.13 L223.02,305.73 L223.95,306.33 L224.87,306.93 L225.80,307.52 L226.72,308.11 L227.65,308.71 L228.57,309.32 L229.50,309.94 L230.42,310.57 L231.35,311.22 L232.28,311.88 L233.20,312.56 L234.13,313.24 L235.05,313.95 L235.98,314.66 L236.90,315.39 L237.83,316.14 L238.75,316.90 L239.68,317.67 L240.60,318.46 L241.53,319.27 L242.46,320.11 L243.38,321.01 L244.31,321.97 L245.23,322.98 L246.16,324.04 L247.08,325.14 L248.01,326.28 L248.93,327.45 L249.86,328.64 L250.79,329.84 L251.71,331.06" stroke="#1f66ff" stroke-width="2.0" stroke-dasharray="3.00,8.00"/>
<path d="M67.54,327.80 L68.46,327.77 L69.38,327.73 L70.29,327.67 L71.21,327.60 L72.13,327.52 L73.05,327.43 L73.97,327.33 L74.89,327.24 L75.80,327.15 L76.72,327.06 L77.64,326.96 L78.56,326.85 L79.48,326.73 L80.40,326.60 L81.31,326.45 L82.23,326.28 L83.15,326.10 L84.07,325.91 L84.99,325.71 L85.91,325.49 L86.82,325.26 L87.74,325.01 L88.66,324.75 L89.58,324.47 L90.50,324.11 L91.42,323.64 L92.33,323.08 L93.25,322.44 L94.17,321.72 L95.09,320.96 L96.01,320.14 L96.93,319.30 L97.84,318.43 L98.76,317.56 L99.68,316.69 L100.60,315.84 L101.52,315.00 L102.44,314.11 L103.35,313.17 L104.27,312.20 L105.19,311.21 L106.11,310.21 L107.03,309.20 L107.95,308.21 L108.86,307.24 L109.78,306.31 L110.70,305.42 L111.62,304.58 L112.54,303.75 L113.46,302.92 L114.37,302.10 L115.29,301.33 L116.21,300.59 L117.13,299.92 L118.05,299.33 L118.97,298.82 L119.88,298.38 L120.80,297.94 L121.72,297.50 L122.64,297.08 L123.56,296.66 L124.48,296.27 L125.39,295.89 L126.31,295.53 L127.23,295.19 L128.15,294.88 L129.07,294.60 L129.99,294.35 L130.90,294.13 L131.82,293.94 L132.74,293.80 L133.66,293.70 L134.58,293.61 L135.50,293.54 L136.41,293.49 L137.33,293.44 L138.25,293.40 L139.17,293.38 L140.09,293.37 L141.01,293.38 L141.92,293.40 L142.84,293.44 L143.76,293.49 L144.68,293.55 L145.60,293.63 L146.52,293.73 L147.43,293.85 L148.35,293.99 L149.27,294.16 L150.19,294.34 L151.11,294.55 L152.03,294.77 L152.94,295.01 L153.86,295.26 L154.78,295.53 L155.70,295.82 L156.62,296.11 L157.54,296.42 L158.45,296.73 L159.37,297.05 L160.29,297.41 L161.21,297.81 L162.13,298.25 L163.05,298.72 L163.96,299.22 L164.88,299.74 L165.80,300.27 L166.72,300.81 L167.64,301.36 L168.56,301.90 L169.47,302.44 L170.39,302.96 L171.31,303.48 L172.23,304.00 L173.15,304.53 L174.07,305.07 L174.98,305.62 L175.90,306.20 L176.82,306.79 L177.74,307.41 L178.66,308.07 L179.58,308.76 L180.49,309.48 L181.41,310.29 L182.33,311.16 L183.25,312.10 L184.17,313.10 L185.09,314.14 L186.00,315.20 L186.92,316.29 L187.84,317.38 L188.76,318.48 L189.68,319.55 L190.60,320.60 L191.51,321.61 L192.43,322.58 L193.35,323.48 L194.27,324.34 L195.19,325.17 L196.11,325.97 L197.02,326.76 L197.94,327.53 L198.86,328.30 L199.78,329.07 L200.70,329.85 L201.62,330.64 L202.53,331.46 L203.45,332.30 L204.37,333.15 L205.29,334.01 L206.21,334.87 L207.13,335.73 L208.04,336.60 L208.96,337.47 L209.88,338.35 L210.80,339.23 L211.72,340.12 L212.64,341.02 L213.55,341.92 L214.47,342.83 L215.39,343.75 L216.31,344.68 L217.23,345.61 L218.15,346.56 L219.06,347.52 L219.98,348.48 L220.90,349.46 L221.82,350.45 L222.74,351.48 L223.66,352.54 L224.57,353.62 L225.49,354.73 L226.41,355.85 L227.33,356.98 L228.25,358.12 L229.17,359.25 L230.08,360.38 L231.00,361.50 L231.92,362.60 L232.84,363.67 L233.76,364.72 L234.68,365.73 L235.59,366.71 L236.51,367.65 L237.43,368.57 L238.35,369.47 L239.27,370.36 L240.19,371.23 L241.10,372.11 L242.02,372.98 L242.94,373.86 L243.86,374.76 L244.78,375.68 L245.70,376.62 L246.61,377.59 L247.53,378.60 L248.45,379.65 L249.37,380.86 L250.29,382.20" stroke="#ff2a2a" stroke-width="2.0" stroke-dasharray="8.70,9.30"/>
<path d="M67.54,327.80 L68.47,327.35 L69.40,326.91 L70.33,326.47 L71.27,326.06 L72.20,325.67 L73.13,325.33 L74.06,325.03 L74.99,324.79 L75.92,324.61 L76.85,324.51 L77.79,324.45 L78.72,324.41 L79.65,324.40 L80.58,324.42 L81.51,324.46 L82.44,324.53 L83.37,324.62 L84.31,324.72 L85.24,324.85 L86.17,325.00 L87.10,325.19 L88.03,325.43 L88.96,325.71 L89.89,326.04 L90.83,326.39 L91.76,326.78 L92.69,327.21 L93.62,327.67 L94.55,328.21 L95.48,328.82 L96.41,329.50 L97.35,330.21 L98.28,330.96 L99.21,331.71 L100.14,332.45 L101.07,333.16 L102.00,333.84 L102.93,334.48 L103.87,335.12 L104.80,335.76 L105.73,336.40 L106.66,337.03 L107.59,337.64 L108.52,338.23 L109.45,338.79 L110.39,339.33 L111.32,339.82 L112.25,340.27 L113.18,340.67 L114.11,341.02 L115.04,341.31 L115.98,341.54 L116.91,341.73 L117.84,341.86 L118.77,341.93 L119.70,341.89 L120.63,341.43 L121.56,340.59 L122.50,339.51 L123.43,338.34 L124.36,337.15 L125.29,335.50 L126.22,333.37 L127.15,330.91 L128.08,328.24 L129.02,325.29 L129.95,321.66 L130.88,317.42 L131.81,312.70 L132.74,307.61 L133.67,302.21 L134.60,295.42 L135.54,287.57 L136.47,279.90 L137.40,273.65 L138.33,268.42 L139.26,263.49 L140.19,259.04 L141.12,255.24 L142.06,252.26 L142.99,249.98 L143.92,247.81 L144.85,245.86 L145.78,244.27 L146.71,243.18 L147.64,242.57 L148.58,241.97 L149.51,241.39 L150.44,240.89 L151.37,240.53 L152.30,240.36 L153.23,240.44 L154.16,240.66 L155.10,240.93 L156.03,241.23 L156.96,241.54 L157.89,241.85 L158.82,242.18 L159.75,242.52 L160.68,242.87 L161.62,243.24 L162.55,243.62 L163.48,244.02 L164.41,244.45 L165.34,244.91 L166.27,245.39 L167.20,245.88 L168.14,246.39 L169.07,246.92 L170.00,247.45 L170.93,248.01 L171.86,248.60 L172.79,249.21 L173.72,249.85 L174.66,250.50 L175.59,251.17 L176.52,251.86 L177.45,252.56 L178.38,253.30 L179.31,254.06 L180.24,254.85 L181.18,255.66 L182.11,256.49 L183.04,257.33 L183.97,258.19 L184.90,259.06 L185.83,259.96 L186.76,260.89 L187.70,261.83 L188.63,262.80 L189.56,263.78 L190.49,264.78 L191.42,265.79 L192.35,266.82 L193.28,267.88 L194.22,268.97 L195.15,270.07 L196.08,271.18 L197.01,272.31 L197.94,273.46 L198.87,274.61 L199.81,275.79 L200.74,276.99 L201.67,278.20 L202.60,279.43 L203.53,280.67 L204.46,281.92 L205.39,283.17 L206.33,284.44 L207.26,285.73 L208.19,287.02 L209.12,288.33 L210.05,289.65 L210.98,290.97 L211.91,292.30 L212.85,293.64 L213.78,294.99 L214.71,296.34 L215.64,297.71 L216.57,299.08 L217.50,300.45 L218.43,301.82 L219.37,303.18 L220.30,304.55 L221.23,305.92 L222.16,307.30 L223.09,308.68 L224.02,310.05 L224.95,311.41 L225.89,312.77 L226.82,314.11 L227.75,315.44 L228.68,316.78 L229.61,318.11 L230.54,319.42 L231.47,320.73 L232.41,322.02 L233.34,323.29 L234.27,324.54 L235.20,325.78 L236.13,327.02 L237.06,328.24 L237.99,329.44 L238.93,330.62 L239.86,331.76 L240.79,332.87 L241.72,333.95 L242.65,335.02 L243.58,336.07 L244.51,337.09 L245.45,338.08 L246.38,339.04 L247.31,339.96 L248.24,340.83 L249.17,341.68 L250.10,342.50 L251.03,343.27 L251.97,344.00 L252.90,344.66" stroke="#3a3a3a" stroke-width="2.0"/>
</g>
<rect x="57.3" y="221.1" width="50.900000000000006" height="73.20000000000002" fill="#ffffff" stroke="#c8c8c8" stroke-width="0.8"/>
<line x1="58.5" y1="226.30" x2="75.2" y2="226.30" stroke="#3a3a3a" stroke-width="2.0"/>
<text x="77" y="228.76" font-family='"Liberation Sans", sans-serif' font-weight="bold" font-size="6.82" stroke="#000" stroke-width="0.18" textLength="30.00" lengthAdjust="spacingAndGlyphs">532nm,TM</text>
<line x1="58.5" y1="235.38" x2="75.2" y2="235.38" stroke="#ff2a2a" stroke-width="2.0" stroke-dasharray="8.70,9.30"/>
<text x="77" y="237.84" font-family='"Liberation Sans", sans-serif' font-weight="bold" font-size="6.82" stroke="#000" stroke-width="0.18" textLength="30.00" lengthAdjust="spacingAndGlyphs">633nm,TM</text>
<line x1="58.5" y1="244.46" x2="75.2" y2="244.46" stroke="#1f66ff" stroke-width="2.0" stroke-dasharray="3.00,8.00"/>
<text x="77" y="246.92" font-family='"Liberation Sans", sans-serif' font-weight="bold" font-size="6.82" stroke="#000" stroke-width="0.18" textLength="30.00" lengthAdjust="spacingAndGlyphs">775nm,TM</text>
<line x1="58.5" y1="253.54" x2="75.2" y2="253.54" stroke="#1fa34d" stroke-width="2.0" stroke-dasharray="10.50,5.00,2.20,5.00"/>
<text x="77" y="256.00" font-family='"Liberation Sans", sans-serif' font-weight="bold" font-size="6.82" stroke="#000" stroke-width="0.18" textLength="30.00" lengthAdjust="spacingAndGlyphs">850nm,TM</text>
<line x1="58.5" y1="262.62" x2="75.2" y2="262.62" stroke="#b45cff" stroke-width="2.0" stroke-dasharray="8.00,4.80,2.20,4.80,2.20,4.80"/>
<text x="77" y="265.08" font-family='"Liberation Sans", sans-serif' font-weight="bold" font-size="6.82" stroke="#000" stroke-width="0.18" textLength="27.00" lengthAdjust="spacingAndGlyphs">532nm,TE</text>
<line x1="58.5" y1="271.70" x2="75.2" y2="271.70" stroke="#d69d12" stroke-width="2.0" stroke-dasharray="5.00,3.00"/>
<text x="77" y="274.16" font-family='"Liberation Sans", sans-serif' font-weight="bold" font-size="6.82" stroke="#000" stroke-width="0.18" textLength="27.00" lengthAdjust="spacingAndGlyphs">633nm,TE</text>
<line x1="58.5" y1="280.78" x2="75.2" y2="280.78" stroke="#12dcec" stroke-width="2.0" stroke-dasharray="2.00,2.00"/>
<text x="77" y="283.24" font-family='"Liberation Sans", sans-serif' font-weight="bold" font-size="6.82" stroke="#000" stroke-width="0.18" textLength="27.00" lengthAdjust="spacingAndGlyphs">775nm,TE</text>
<line x1="58.5" y1="289.86" x2="75.2" y2="289.86" stroke="#7d3232" stroke-width="2.0" stroke-dasharray="8.00,2.40,1.60,2.40"/>
<text x="77" y="292.32" font-family='"Liberation Sans", sans-serif' font-weight="bold" font-size="6.82" stroke="#000" stroke-width="0.18" textLength="27.00" lengthAdjust="spacingAndGlyphs">850nm,TE</text>
<rect x="53.3" y="219.0" width="213.59999999999997" height="163.2" fill="none" stroke="#7a7a7a" stroke-width="1.2"/>
<line x1="65.17" y1="382.20" x2="65.17" y2="384.70" stroke="#555" stroke-width="1"/>
<line x1="112.63" y1="382.20" x2="112.63" y2="384.70" stroke="#555" stroke-width="1"/>
<line x1="160.10" y1="382.20" x2="160.10" y2="384.70" stroke="#555" stroke-width="1"/>
<line x1="207.57" y1="382.20" x2="207.57" y2="384.70" stroke="#555" stroke-width="1"/>
<line x1="255.03" y1="382.20" x2="255.03" y2="384.70" stroke="#555" stroke-width="1"/>
<line x1="88.90" y1="382.20" x2="88.90" y2="383.70" stroke="#555" stroke-width="1"/>
<line x1="136.37" y1="382.20" x2="136.37" y2="383.70" stroke="#555" stroke-width="1"/>
<line x1="183.83" y1="382.20" x2="183.83" y2="383.70" stroke="#555" stroke-width="1"/>
<line x1="231.30" y1="382.20" x2="231.30" y2="383.70" stroke="#555" stroke-width="1"/>
<line x1="50.80" y1="364.07" x2="53.30" y2="364.07" stroke="#555" stroke-width="1"/>
<line x1="50.80" y1="327.80" x2="53.30" y2="327.80" stroke="#555" stroke-width="1"/>
<line x1="50.80" y1="291.53" x2="53.30" y2="291.53" stroke="#555" stroke-width="1"/>
<line x1="50.80" y1="255.27" x2="53.30" y2="255.27" stroke="#555" stroke-width="1"/>
<line x1="50.80" y1="219.00" x2="53.30" y2="219.00" stroke="#555" stroke-width="1"/>
<line x1="51.80" y1="345.93" x2="53.30" y2="345.93" stroke="#555" stroke-width="1"/>
<line x1="51.80" y1="309.67" x2="53.30" y2="309.67" stroke="#555" stroke-width="1"/>
<line x1="51.80" y1="273.40" x2="53.30" y2="273.40" stroke="#555" stroke-width="1"/>
<line x1="51.80" y1="237.13" x2="53.30" y2="237.13" stroke="#555" stroke-width="1"/>
<text x="65.17" y="396.00" text-anchor="middle" font-family='"Liberation Sans", sans-serif' font-weight="bold" font-size="10" stroke="#000" stroke-width="0.2" textLength="6.12" lengthAdjust="spacingAndGlyphs">0</text>
<text x="112.63" y="396.00" text-anchor="middle" font-family='"Liberation Sans", sans-serif' font-weight="bold" font-size="10" stroke="#000" stroke-width="0.2" textLength="12.23" lengthAdjust="spacingAndGlyphs">20</text>
<text x="160.10" y="396.00" text-anchor="middle" font-family='"Liberation Sans", sans-serif' font-weight="bold" font-size="10" stroke="#000" stroke-width="0.2" textLength="12.23" lengthAdjust="spacingAndGlyphs">40</text>
<text x="207.57" y="396.00" text-anchor="middle" font-family='"Liberation Sans", sans-serif' font-weight="bold" font-size="10" stroke="#000" stroke-width="0.2" textLength="12.23" lengthAdjust="spacingAndGlyphs">60</text>
<text x="255.03" y="396.00" text-anchor="middle" font-family='"Liberation Sans", sans-serif' font-weight="bold" font-size="10" stroke="#000" stroke-width="0.2" textLength="12.23" lengthAdjust="spacingAndGlyphs">80</text>
<text x="48.00" y="367.17" text-anchor="end" font-family='"Liberation Sans", sans-serif' font-weight="bold" font-size="10" stroke="#000" stroke-width="0.2" textLength="22.01" lengthAdjust="spacingAndGlyphs">-100</text>
<text x="48.00" y="330.90" text-anchor="end" font-family='"Liberation Sans", sans-serif' font-weight="bold" font-size="10" stroke="#000" stroke-width="0.2" textLength="6.12" lengthAdjust="spacingAndGlyphs">0</text>
<text x="48.00" y="294.63" text-anchor="end" font-family='"Liberation Sans", sans-serif' font-weight="bold" font-size="10" stroke="#000" stroke-width="0.2" textLength="18.35" lengthAdjust="spacingAndGlyphs">100</text>
<text x="48.00" y="258.37" text-anchor="end" font-family='"Liberation Sans", sans-serif' font-weight="bold" font-size="10" stroke="#000" stroke-width="0.2" textLength="18.35" lengthAdjust="spacingAndGlyphs">200</text>
<text x="48.00" y="222.10" text-anchor="end" font-family='"Liberation Sans", sans-serif' font-weight="bold" font-size="10" stroke="#000" stroke-width="0.2" textLength="18.35" lengthAdjust="spacingAndGlyphs">300</text>
<text x="139.1" y="407" font-family='"Liberation Serif", serif' font-weight="bold" font-size="12" textLength="37.8" lengthAdjust="spacingAndGlyphs">C (nm)</text>
<text transform="translate(23.8,304) rotate(-90)" text-anchor="middle" font-family='"Liberation Sans", sans-serif' font-weight="bold" font-size="11" stroke="#000" stroke-width="0.25" textLength="39.4" lengthAdjust="spacingAndGlyphs">&#916;x (nm)</text>
<text x="6.3" y="236" font-family='"Liberation Serif", serif' font-weight="bold" font-size="19" textLength="22.3" lengthAdjust="spacingAndGlyphs">(c)</text>
<line x1="338.42" y1="219.10" x2="338.42" y2="382.20" stroke="#ebebeb" stroke-width="0.8"/>
<line x1="385.71" y1="219.10" x2="385.71" y2="382.20" stroke="#ebebeb" stroke-width="0.8"/>
<line x1="433.00" y1="219.10" x2="433.00" y2="382.20" stroke="#ebebeb" stroke-width="0.8"/>
<line x1="480.29" y1="219.10" x2="480.29" y2="382.20" stroke="#ebebeb" stroke-width="0.8"/>
<line x1="527.58" y1="219.10" x2="527.58" y2="382.20" stroke="#ebebeb" stroke-width="0.8"/>
<line x1="326.60" y1="341.43" x2="539.40" y2="341.43" stroke="#ebebeb" stroke-width="0.8"/>
<line x1="326.60" y1="300.65" x2="539.40" y2="300.65" stroke="#ebebeb" stroke-width="0.8"/>
<line x1="326.60" y1="259.88" x2="539.40" y2="259.88" stroke="#ebebeb" stroke-width="0.8"/>
<clipPath id="cd"><rect x="326.6" y="219.1" width="212.79999999999995" height="163.1"/></clipPath>
<g clip-path="url(#cd)" fill="none" stroke-linejoin="round">
<path d="M340.79,341.36 L343.12,341.31 L345.46,341.23 L347.79,341.10 L350.12,340.94 L352.46,340.74 L354.79,340.49 L357.13,340.21 L359.46,339.88 L361.80,339.52 L364.13,339.11 L366.47,338.66 L368.80,338.18 L371.14,337.65 L373.47,337.08 L375.80,336.47 L378.14,335.83 L380.47,335.14 L382.81,334.41 L385.14,333.64 L387.48,332.83 L389.81,331.98 L392.15,331.09 L394.48,330.16 L396.82,329.19 L399.15,328.18 L401.48,327.13 L403.82,326.05 L406.15,324.92 L408.49,323.76 L410.82,322.56 L413.16,321.32 L415.49,320.04 L417.83,318.73 L420.16,317.38 L422.49,315.99 L424.83,314.57 L427.16,313.11 L429.50,311.61 L431.83,310.08 L434.17,308.51 L436.50,306.91 L438.84,305.28 L441.17,303.62 L443.51,301.92 L445.84,300.18 L448.17,298.42 L450.51,296.63 L452.84,294.80 L455.18,292.95 L457.51,291.06 L459.85,289.15 L462.18,287.20 L464.52,285.23 L466.85,283.24 L469.18,281.21 L471.52,279.16 L473.85,277.09 L476.19,274.99 L478.52,272.87 L480.86,270.72 L483.19,268.55 L485.53,266.37 L487.86,264.16 L490.20,261.93 L492.53,259.68 L494.86,257.41 L497.20,255.13 L499.53,252.83 L501.87,250.51 L504.20,248.18 L506.54,245.84 L508.87,243.48 L511.21,241.11 L513.54,238.73 L515.88,236.34 L518.21,233.94 L520.54,231.53 L522.88,229.12 L525.21,226.70" stroke="#7d3232" stroke-width="2.0" stroke-dasharray="8.00,2.40,1.60,2.40"/>
<path d="M340.79,341.34 L343.12,341.30 L345.46,341.24 L347.79,341.17 L350.12,341.07 L352.46,340.96 L354.79,340.83 L357.13,340.67 L359.46,340.49 L361.80,340.29 L364.13,340.06 L366.47,339.80 L368.80,339.52 L371.14,339.21 L373.47,338.86 L375.80,338.49 L378.14,338.09 L380.47,337.66 L382.81,337.19 L385.14,336.69 L387.48,336.16 L389.81,335.59 L392.15,334.99 L394.48,334.36 L396.82,333.69 L399.15,332.98 L401.48,332.24 L403.82,331.46 L406.15,330.65 L408.49,329.80 L410.82,328.92 L413.16,327.99 L415.49,327.04 L417.83,326.04 L420.16,325.01 L422.49,323.95 L424.83,322.85 L427.16,321.71 L429.50,320.54 L431.83,319.33 L434.17,318.09 L436.50,316.82 L438.84,315.51 L441.17,314.18 L443.51,312.81 L445.84,311.40 L448.17,309.97 L450.51,308.51 L452.84,307.02 L455.18,305.50 L457.51,303.95 L459.85,302.38 L462.18,300.79 L464.52,299.17 L466.85,297.52 L469.18,295.86 L471.52,294.17 L473.85,292.47 L476.19,290.74 L478.52,289.00 L480.86,287.25 L483.19,285.48 L485.53,283.70 L487.86,281.91 L490.20,280.11 L492.53,278.30 L494.86,276.49 L497.20,274.67 L499.53,272.85 L501.87,271.04 L504.20,269.22 L506.54,267.41 L508.87,265.60 L511.21,263.80 L513.54,262.01 L515.88,260.23 L518.21,258.47 L520.54,256.72 L522.88,254.99 L525.21,253.29" stroke="#12dcec" stroke-width="2.0" stroke-dasharray="2.00,2.00"/>
<path d="M340.79,341.48 L343.12,341.42 L345.46,341.38 L347.79,341.36 L350.12,341.37 L352.46,341.40 L354.79,341.45 L357.13,341.51 L359.46,341.60 L361.80,341.69 L364.13,341.81 L366.47,341.94 L368.80,342.08 L371.14,342.23 L373.47,342.40 L375.80,342.57 L378.14,342.75 L380.47,342.94 L382.81,343.13 L385.14,343.33 L387.48,343.54 L389.81,343.74 L392.15,343.95 L394.48,344.17 L396.82,344.38 L399.15,344.59 L401.48,344.80 L403.82,345.01 L406.15,345.22 L408.49,345.43 L410.82,345.63 L413.16,345.82 L415.49,346.01 L417.83,346.20 L420.16,346.38 L422.49,346.55 L424.83,346.72 L427.16,346.87 L429.50,347.02 L431.83,347.16 L434.17,347.29 L436.50,347.41 L438.84,347.52 L441.17,347.62 L443.51,347.71 L445.84,347.79 L448.17,347.85 L450.51,347.91 L452.84,347.95 L455.18,347.98 L457.51,348.00 L459.85,348.00 L462.18,347.99 L464.52,347.97 L466.85,347.94 L469.18,347.89 L471.52,347.83 L473.85,347.75 L476.19,347.66 L478.52,347.56 L480.86,347.45 L483.19,347.32 L485.53,347.18 L487.86,347.03 L490.20,346.86 L492.53,346.68 L494.86,346.49 L497.20,346.29 L499.53,346.07 L501.87,345.84 L504.20,345.60 L506.54,345.35 L508.87,345.09 L511.21,344.82 L513.54,344.54 L515.88,344.25 L518.21,343.95 L520.54,343.64 L522.88,343.33 L525.21,343.00" stroke="#d69d12" stroke-width="2.0" stroke-dasharray="5.00,3.00"/>
<path d="M340.79,341.63 L343.12,341.47 L345.46,341.38 L347.79,341.34 L350.12,341.37 L352.46,341.46 L354.79,341.60 L357.13,341.79 L359.46,342.02 L361.80,342.31 L364.13,342.63 L366.47,342.99 L368.80,343.39 L371.14,343.83 L373.47,344.29 L375.80,344.79 L378.14,345.31 L380.47,345.86 L382.81,346.42 L385.14,347.01 L387.48,347.62 L389.81,348.24 L392.15,348.88 L394.48,349.53 L396.82,350.19 L399.15,350.86 L401.48,351.53 L403.82,352.21 L406.15,352.90 L408.49,353.58 L410.82,354.27 L413.16,354.95 L415.49,355.64 L417.83,356.31 L420.16,356.99 L422.49,357.66 L424.83,358.32 L427.16,358.97 L429.50,359.61 L431.83,360.25 L434.17,360.87 L436.50,361.48 L438.84,362.08 L441.17,362.66 L443.51,363.24 L445.84,363.79 L448.17,364.34 L450.51,364.87 L452.84,365.38 L455.18,365.88 L457.51,366.36 L459.85,366.82 L462.18,367.27 L464.52,367.71 L466.85,368.12 L469.18,368.52 L471.52,368.91 L473.85,369.28 L476.19,369.64 L478.52,369.98 L480.86,370.30 L483.19,370.61 L485.53,370.91 L487.86,371.20 L490.20,371.47 L492.53,371.73 L494.86,371.99 L497.20,372.23 L499.53,372.46 L501.87,372.69 L504.20,372.91 L506.54,373.12 L508.87,373.33 L511.21,373.54 L513.54,373.74 L515.88,373.95 L518.21,374.15 L520.54,374.36 L522.88,374.57 L525.21,374.79" stroke="#b45cff" stroke-width="2.0" stroke-dasharray="8.00,4.80,2.20,4.80,2.20,4.80"/>
<path d="M340.79,341.39 L343.12,341.44 L345.46,341.46 L347.79,341.44 L350.12,341.38 L352.46,341.30 L354.79,341.19 L357.13,341.05 L359.46,340.88 L361.80,340.69 L364.13,340.47 L366.47,340.23 L368.80,339.96 L371.14,339.68 L373.47,339.37 L375.80,339.05 L378.14,338.71 L380.47,338.35 L382.81,337.97 L385.14,337.58 L387.48,337.18 L389.81,336.76 L392.15,336.33 L394.48,335.88 L396.82,335.43 L399.15,334.96 L401.48,334.48 L403.82,334.00 L406.15,333.50 L408.49,332.99 L410.82,332.48 L413.16,331.96 L415.49,331.42 L417.83,330.89 L420.16,330.34 L422.49,329.79 L424.83,329.23 L427.16,328.66 L429.50,328.09 L431.83,327.51 L434.17,326.92 L436.50,326.33 L438.84,325.72 L441.17,325.12 L443.51,324.50 L445.84,323.88 L448.17,323.25 L450.51,322.62 L452.84,321.97 L455.18,321.32 L457.51,320.66 L459.85,319.99 L462.18,319.30 L464.52,318.61 L466.85,317.91 L469.18,317.20 L471.52,316.48 L473.85,315.74 L476.19,314.99 L478.52,314.23 L480.86,313.45 L483.19,312.65 L485.53,311.84 L487.86,311.01 L490.20,310.17 L492.53,309.30 L494.86,308.42 L497.20,307.51 L499.53,306.58 L501.87,305.63 L504.20,304.65 L506.54,303.65 L508.87,302.62 L511.21,301.56 L513.54,300.47 L515.88,299.35 L518.21,298.20 L520.54,297.01 L522.88,295.79 L525.21,294.53" stroke="#1fa34d" stroke-width="2.0" stroke-dasharray="10.50,5.00,2.20,5.00"/>
<path d="M340.79,341.44 L343.12,341.42 L345.46,341.40 L347.79,341.36 L350.12,341.31 L352.46,341.26 L354.79,341.19 L357.13,341.12 L359.46,341.05 L361.80,340.96 L364.13,340.88 L366.47,340.78 L368.80,340.69 L371.14,340.59 L373.47,340.48 L375.80,340.37 L378.14,340.26 L380.47,340.14 L382.81,340.02 L385.14,339.90 L387.48,339.78 L389.81,339.65 L392.15,339.52 L394.48,339.39 L396.82,339.26 L399.15,339.13 L401.48,338.99 L403.82,338.86 L406.15,338.72 L408.49,338.58 L410.82,338.43 L413.16,338.29 L415.49,338.14 L417.83,337.99 L420.16,337.84 L422.49,337.69 L424.83,337.53 L427.16,337.37 L429.50,337.21 L431.83,337.04 L434.17,336.87 L436.50,336.69 L438.84,336.51 L441.17,336.33 L443.51,336.14 L445.84,335.94 L448.17,335.74 L450.51,335.53 L452.84,335.31 L455.18,335.08 L457.51,334.85 L459.85,334.60 L462.18,334.35 L464.52,334.08 L466.85,333.81 L469.18,333.52 L471.52,333.22 L473.85,332.90 L476.19,332.57 L478.52,332.23 L480.86,331.87 L483.19,331.49 L485.53,331.09 L487.86,330.68 L490.20,330.24 L492.53,329.79 L494.86,329.31 L497.20,328.81 L499.53,328.29 L501.87,327.74 L504.20,327.16 L506.54,326.56 L508.87,325.93 L511.21,325.27 L513.54,324.57 L515.88,323.85 L518.21,323.09 L520.54,322.30 L522.88,321.47 L525.21,320.61" stroke="#1f66ff" stroke-width="2.0" stroke-dasharray="3.00,8.00"/>
<path d="M340.79,341.42 L343.12,341.42 L345.46,341.43 L347.79,341.43 L350.12,341.43 L352.46,341.43 L354.79,341.43 L357.13,341.43 L359.46,341.43 L361.80,341.43 L364.13,341.43 L366.47,341.44 L368.80,341.44 L371.14,341.44 L373.47,341.44 L375.80,341.45 L378.14,341.45 L380.47,341.46 L382.81,341.47 L385.14,341.48 L387.48,341.49 L389.81,341.51 L392.15,341.52 L394.48,341.54 L396.82,341.56 L399.15,341.59 L401.48,341.61 L403.82,341.64 L406.15,341.68 L408.49,341.71 L410.82,341.75 L413.16,341.79 L415.49,341.83 L417.83,341.88 L420.16,341.93 L422.49,341.99 L424.83,342.04 L427.16,342.10 L429.50,342.16 L431.83,342.23 L434.17,342.30 L436.50,342.37 L438.84,342.45 L441.17,342.53 L443.51,342.61 L445.84,342.69 L448.17,342.78 L450.51,342.87 L452.84,342.97 L455.18,343.06 L457.51,343.16 L459.85,343.26 L462.18,343.37 L464.52,343.47 L466.85,343.58 L469.18,343.69 L471.52,343.81 L473.85,343.92 L476.19,344.04 L478.52,344.15 L480.86,344.27 L483.19,344.39 L485.53,344.52 L487.86,344.64 L490.20,344.76 L492.53,344.88 L494.86,345.01 L497.20,345.13 L499.53,345.25 L501.87,345.38 L504.20,345.50 L506.54,345.62 L508.87,345.74 L511.21,345.86 L513.54,345.98 L515.88,346.10 L518.21,346.21 L520.54,346.32 L522.88,346.43 L525.21,346.53" stroke="#ff2a2a" stroke-width="2.0" stroke-dasharray="8.70,9.30"/>
<path d="M340.79,341.52 L343.12,341.46 L345.46,341.41 L347.79,341.36 L350.12,341.31 L352.46,341.27 L354.79,341.24 L357.13,341.22 L359.46,341.21 L361.80,341.21 L364.13,341.21 L366.47,341.23 L368.80,341.25 L371.14,341.29 L373.47,341.34 L375.80,341.40 L378.14,341.48 L380.47,341.56 L382.81,341.66 L385.14,341.78 L387.48,341.90 L389.81,342.04 L392.15,342.20 L394.48,342.37 L396.82,342.55 L399.15,342.75 L401.48,342.97 L403.82,343.20 L406.15,343.44 L408.49,343.71 L410.82,343.98 L413.16,344.28 L415.49,344.59 L417.83,344.92 L420.16,345.26 L422.49,345.62 L424.83,346.00 L427.16,346.39 L429.50,346.80 L431.83,347.22 L434.17,347.67 L436.50,348.13 L438.84,348.60 L441.17,349.09 L443.51,349.60 L445.84,350.12 L448.17,350.66 L450.51,351.21 L452.84,351.78 L455.18,352.37 L457.51,352.97 L459.85,353.58 L462.18,354.21 L464.52,354.85 L466.85,355.51 L469.18,356.18 L471.52,356.86 L473.85,357.56 L476.19,358.27 L478.52,358.99 L480.86,359.72 L483.19,360.46 L485.53,361.22 L487.86,361.98 L490.20,362.76 L492.53,363.54 L494.86,364.33 L497.20,365.13 L499.53,365.94 L501.87,366.75 L504.20,367.57 L506.54,368.40 L508.87,369.23 L511.21,370.07 L513.54,370.91 L515.88,371.75 L518.21,372.59 L520.54,373.44 L522.88,374.29 L525.21,375.14" stroke="#3a3a3a" stroke-width="2.0"/>
</g>
<rect x="330.3" y="221.2" width="67.30000000000001" height="98.10000000000002" fill="#ffffff" stroke="#c8c8c8" stroke-width="0.8"/>
<line x1="332" y1="228.20" x2="354" y2="228.20" stroke="#3a3a3a" stroke-width="2.0"/>
<text x="356.3" y="231.45" font-family='"Liberation Sans", sans-serif' font-weight="bold" font-size="9.02" stroke="#000" stroke-width="0.18" textLength="40.00" lengthAdjust="spacingAndGlyphs">532nm,TM</text>
<line x1="332" y1="240.27" x2="354" y2="240.27" stroke="#ff2a2a" stroke-width="2.0" stroke-dasharray="8.70,9.30"/>
<text x="356.3" y="243.52" font-family='"Liberation Sans", sans-serif' font-weight="bold" font-size="9.02" stroke="#000" stroke-width="0.18" textLength="40.00" lengthAdjust="spacingAndGlyphs">633nm,TM</text>
<line x1="332" y1="252.34" x2="354" y2="252.34" stroke="#1f66ff" stroke-width="2.0" stroke-dasharray="3.00,8.00"/>
<text x="356.3" y="255.59" font-family='"Liberation Sans", sans-serif' font-weight="bold" font-size="9.02" stroke="#000" stroke-width="0.18" textLength="40.00" lengthAdjust="spacingAndGlyphs">775nm,TM</text>
<line x1="332" y1="264.41" x2="354" y2="264.41" stroke="#1fa34d" stroke-width="2.0" stroke-dasharray="10.50,5.00,2.20,5.00"/>
<text x="356.3" y="267.66" font-family='"Liberation Sans", sans-serif' font-weight="bold" font-size="9.02" stroke="#000" stroke-width="0.18" textLength="40.00" lengthAdjust="spacingAndGlyphs">850nm,TM</text>
<line x1="332" y1="276.48" x2="354" y2="276.48" stroke="#b45cff" stroke-width="2.0" stroke-dasharray="8.00,4.80,2.20,4.80,2.20,4.80"/>
<text x="356.3" y="279.73" font-family='"Liberation Sans", sans-serif' font-weight="bold" font-size="9.02" stroke="#000" stroke-width="0.18" textLength="36.00" lengthAdjust="spacingAndGlyphs">532nm,TE</text>
<line x1="332" y1="288.55" x2="354" y2="288.55" stroke="#d69d12" stroke-width="2.0" stroke-dasharray="5.00,3.00"/>
<text x="356.3" y="291.80" font-family='"Liberation Sans", sans-serif' font-weight="bold" font-size="9.02" stroke="#000" stroke-width="0.18" textLength="36.00" lengthAdjust="spacingAndGlyphs">633nm,TE</text>
<line x1="332" y1="300.62" x2="354" y2="300.62" stroke="#12dcec" stroke-width="2.0" stroke-dasharray="2.00,2.00"/>
<text x="356.3" y="303.87" font-family='"Liberation Sans", sans-serif' font-weight="bold" font-size="9.02" stroke="#000" stroke-width="0.18" textLength="36.00" lengthAdjust="spacingAndGlyphs">775nm,TE</text>
<line x1="332" y1="312.69" x2="354" y2="312.69" stroke="#7d3232" stroke-width="2.0" stroke-dasharray="8.00,2.40,1.60,2.40"/>
<text x="356.3" y="315.94" font-family='"Liberation Sans", sans-serif' font-weight="bold" font-size="9.02" stroke="#000" stroke-width="0.18" textLength="36.00" lengthAdjust="spacingAndGlyphs">850nm,TE</text>
<rect x="326.6" y="219.1" width="212.79999999999995" height="163.1" fill="none" stroke="#7a7a7a" stroke-width="1.2"/>
<line x1="338.42" y1="382.20" x2="338.42" y2="384.70" stroke="#555" stroke-width="1"/>
<line x1="385.71" y1="382.20" x2="385.71" y2="384.70" stroke="#555" stroke-width="1"/>
<line x1="433.00" y1="382.20" x2="433.00" y2="384.70" stroke="#555" stroke-width="1"/>
<line x1="480.29" y1="382.20" x2="480.29" y2="384.70" stroke="#555" stroke-width="1"/>
<line x1="527.58" y1="382.20" x2="527.58" y2="384.70" stroke="#555" stroke-width="1"/>
<line x1="362.07" y1="382.20" x2="362.07" y2="383.70" stroke="#555" stroke-width="1"/>
<line x1="409.36" y1="382.20" x2="409.36" y2="383.70" stroke="#555" stroke-width="1"/>
<line x1="456.64" y1="382.20" x2="456.64" y2="383.70" stroke="#555" stroke-width="1"/>
<line x1="503.93" y1="382.20" x2="503.93" y2="383.70" stroke="#555" stroke-width="1"/>
<line x1="324.10" y1="382.20" x2="326.60" y2="382.20" stroke="#555" stroke-width="1"/>
<line x1="324.10" y1="341.43" x2="326.60" y2="341.43" stroke="#555" stroke-width="1"/>
<line x1="324.10" y1="300.65" x2="326.60" y2="300.65" stroke="#555" stroke-width="1"/>
<line x1="324.10" y1="259.88" x2="326.60" y2="259.88" stroke="#555" stroke-width="1"/>
<line x1="324.10" y1="219.10" x2="326.60" y2="219.10" stroke="#555" stroke-width="1"/>
<line x1="325.10" y1="361.81" x2="326.60" y2="361.81" stroke="#555" stroke-width="1"/>
<line x1="325.10" y1="321.04" x2="326.60" y2="321.04" stroke="#555" stroke-width="1"/>
<line x1="325.10" y1="280.26" x2="326.60" y2="280.26" stroke="#555" stroke-width="1"/>
<line x1="325.10" y1="239.49" x2="326.60" y2="239.49" stroke="#555" stroke-width="1"/>
<text x="338.42" y="396.00" text-anchor="middle" font-family='"Liberation Sans", sans-serif' font-weight="bold" font-size="10" stroke="#000" stroke-width="0.2" textLength="6.12" lengthAdjust="spacingAndGlyphs">0</text>
<text x="385.71" y="396.00" text-anchor="middle" font-family='"Liberation Sans", sans-serif' font-weight="bold" font-size="10" stroke="#000" stroke-width="0.2" textLength="12.23" lengthAdjust="spacingAndGlyphs">20</text>
<text x="433.00" y="396.00" text-anchor="middle" font-family='"Liberation Sans", sans-serif' font-weight="bold" font-size="10" stroke="#000" stroke-width="0.2" textLength="12.23" lengthAdjust="spacingAndGlyphs">40</text>
<text x="480.29" y="396.00" text-anchor="middle" font-family='"Liberation Sans", sans-serif' font-weight="bold" font-size="10" stroke="#000" stroke-width="0.2" textLength="12.23" lengthAdjust="spacingAndGlyphs">60</text>
<text x="527.58" y="396.00" text-anchor="middle" font-family='"Liberation Sans", sans-serif' font-weight="bold" font-size="10" stroke="#000" stroke-width="0.2" textLength="12.23" lengthAdjust="spacingAndGlyphs">80</text>
<text x="321.50" y="385.30" text-anchor="end" font-family='"Liberation Sans", sans-serif' font-weight="bold" font-size="10" stroke="#000" stroke-width="0.2" textLength="15.90" lengthAdjust="spacingAndGlyphs">-10</text>
<text x="321.50" y="344.53" text-anchor="end" font-family='"Liberation Sans", sans-serif' font-weight="bold" font-size="10" stroke="#000" stroke-width="0.2" textLength="6.12" lengthAdjust="spacingAndGlyphs">0</text>
<text x="321.50" y="303.75" text-anchor="end" font-family='"Liberation Sans", sans-serif' font-weight="bold" font-size="10" stroke="#000" stroke-width="0.2" textLength="12.23" lengthAdjust="spacingAndGlyphs">10</text>
<text x="321.50" y="262.98" text-anchor="end" font-family='"Liberation Sans", sans-serif' font-weight="bold" font-size="10" stroke="#000" stroke-width="0.2" textLength="12.23" lengthAdjust="spacingAndGlyphs">20</text>
<text x="321.50" y="222.20" text-anchor="end" font-family='"Liberation Sans", sans-serif' font-weight="bold" font-size="10" stroke="#000" stroke-width="0.2" textLength="12.23" lengthAdjust="spacingAndGlyphs">30</text>
<text x="412.4" y="407" font-family='"Liberation Serif", serif' font-weight="bold" font-size="12" textLength="37.6" lengthAdjust="spacingAndGlyphs">R (nm)</text>
<text transform="translate(303.8,305) rotate(-90)" text-anchor="middle" font-family='"Liberation Sans", sans-serif' font-weight="bold" font-size="11" stroke="#000" stroke-width="0.25" textLength="39.4" lengthAdjust="spacingAndGlyphs">&#916;x (nm)</text>
<text x="276.6" y="225.2" font-family='"Liberation Serif", serif' font-weight="bold" font-size="19.3" textLength="23.8" lengthAdjust="spacingAndGlyphs">(d)</text>
<line x1="65.17" y1="423.20" x2="65.17" y2="586.40" stroke="#ebebeb" stroke-width="0.8"/>
<line x1="112.66" y1="423.20" x2="112.66" y2="586.40" stroke="#ebebeb" stroke-width="0.8"/>
<line x1="160.15" y1="423.20" x2="160.15" y2="586.40" stroke="#ebebeb" stroke-width="0.8"/>
<line x1="207.64" y1="423.20" x2="207.64" y2="586.40" stroke="#ebebeb" stroke-width="0.8"/>
<line x1="255.13" y1="423.20" x2="255.13" y2="586.40" stroke="#ebebeb" stroke-width="0.8"/>
<line x1="53.30" y1="550.13" x2="267.00" y2="550.13" stroke="#ebebeb" stroke-width="0.8"/>
<line x1="53.30" y1="513.87" x2="267.00" y2="513.87" stroke="#ebebeb" stroke-width="0.8"/>
<line x1="53.30" y1="477.60" x2="267.00" y2="477.60" stroke="#ebebeb" stroke-width="0.8"/>
<line x1="53.30" y1="441.33" x2="267.00" y2="441.33" stroke="#ebebeb" stroke-width="0.8"/>
<clipPath id="ce"><rect x="53.3" y="423.2" width="213.7" height="163.2"/></clipPath>
<g clip-path="url(#ce)" fill="none" stroke-linejoin="round">
<path d="M67.55,531.99 L69.89,532.05 L72.24,532.05 L74.58,532.00 L76.92,531.89 L79.27,531.73 L81.61,531.51 L83.96,531.24 L86.30,530.91 L88.65,530.53 L90.99,530.10 L93.33,529.62 L95.68,529.09 L98.02,528.50 L100.37,527.87 L102.71,527.19 L105.06,526.46 L107.40,525.69 L109.75,524.87 L112.09,524.00 L114.43,523.09 L116.78,522.13 L119.12,521.13 L121.47,520.09 L123.81,519.01 L126.16,517.89 L128.50,516.73 L130.85,515.53 L133.19,514.30 L135.53,513.02 L137.88,511.72 L140.22,510.38 L142.57,509.00 L144.91,507.60 L147.26,506.16 L149.60,504.69 L151.94,503.20 L154.29,501.68 L156.63,500.13 L158.98,498.56 L161.32,496.97 L163.67,495.35 L166.01,493.71 L168.36,492.06 L170.70,490.38 L173.04,488.69 L175.39,486.98 L177.73,485.26 L180.08,483.53 L182.42,481.79 L184.77,480.03 L187.11,478.27 L189.45,476.50 L191.80,474.73 L194.14,472.96 L196.49,471.18 L198.83,469.40 L201.18,467.63 L203.52,465.86 L205.87,464.09 L208.21,462.33 L210.55,460.58 L212.90,458.84 L215.24,457.11 L217.59,455.39 L219.93,453.69 L222.28,452.01 L224.62,450.34 L226.97,448.70 L229.31,447.08 L231.65,445.49 L234.00,443.92 L236.34,442.38 L238.69,440.87 L241.03,439.40 L243.38,437.95 L245.72,436.55 L248.06,435.19 L250.41,433.86 L252.75,432.58" stroke="#7d3232" stroke-width="2.0" stroke-dasharray="8.00,2.40,1.60,2.40"/>
<path d="M67.55,531.92 L69.89,532.03 L72.24,532.09 L74.58,532.11 L76.92,532.08 L79.27,532.01 L81.61,531.89 L83.96,531.73 L86.30,531.53 L88.65,531.28 L90.99,530.99 L93.33,530.66 L95.68,530.29 L98.02,529.88 L100.37,529.43 L102.71,528.93 L105.06,528.40 L107.40,527.83 L109.75,527.23 L112.09,526.58 L114.43,525.90 L116.78,525.18 L119.12,524.43 L121.47,523.64 L123.81,522.82 L126.16,521.96 L128.50,521.08 L130.85,520.16 L133.19,519.21 L135.53,518.23 L137.88,517.22 L140.22,516.18 L142.57,515.12 L144.91,514.03 L147.26,512.92 L149.60,511.78 L151.94,510.61 L154.29,509.43 L156.63,508.22 L158.98,506.99 L161.32,505.74 L163.67,504.48 L166.01,503.20 L168.36,501.90 L170.70,500.58 L173.04,499.26 L175.39,497.92 L177.73,496.57 L180.08,495.20 L182.42,493.83 L184.77,492.46 L187.11,491.07 L189.45,489.68 L191.80,488.29 L194.14,486.90 L196.49,485.50 L198.83,484.10 L201.18,482.71 L203.52,481.32 L205.87,479.94 L208.21,478.56 L210.55,477.19 L212.90,475.82 L215.24,474.47 L217.59,473.13 L219.93,471.81 L222.28,470.50 L224.62,469.21 L226.97,467.93 L229.31,466.68 L231.65,465.45 L234.00,464.24 L236.34,463.06 L238.69,461.91 L241.03,460.79 L243.38,459.69 L245.72,458.63 L248.06,457.60 L250.41,456.61 L252.75,455.66" stroke="#12dcec" stroke-width="2.0" stroke-dasharray="2.00,2.00"/>
<path d="M67.55,531.98 L69.89,531.87 L72.24,531.79 L74.58,531.75 L76.92,531.74 L79.27,531.75 L81.61,531.79 L83.96,531.86 L86.30,531.94 L88.65,532.04 L90.99,532.17 L93.33,532.30 L95.68,532.45 L98.02,532.61 L100.37,532.78 L102.71,532.95 L105.06,533.13 L107.40,533.32 L109.75,533.51 L112.09,533.69 L114.43,533.88 L116.78,534.06 L119.12,534.24 L121.47,534.41 L123.81,534.58 L126.16,534.74 L128.50,534.89 L130.85,535.03 L133.19,535.16 L135.53,535.28 L137.88,535.38 L140.22,535.47 L142.57,535.55 L144.91,535.61 L147.26,535.65 L149.60,535.67 L151.94,535.68 L154.29,535.67 L156.63,535.65 L158.98,535.60 L161.32,535.53 L163.67,535.45 L166.01,535.34 L168.36,535.22 L170.70,535.08 L173.04,534.91 L175.39,534.73 L177.73,534.52 L180.08,534.30 L182.42,534.06 L184.77,533.79 L187.11,533.51 L189.45,533.21 L191.80,532.89 L194.14,532.56 L196.49,532.20 L198.83,531.83 L201.18,531.45 L203.52,531.05 L205.87,530.64 L208.21,530.21 L210.55,529.77 L212.90,529.32 L215.24,528.85 L217.59,528.38 L219.93,527.90 L222.28,527.42 L224.62,526.92 L226.97,526.43 L229.31,525.93 L231.65,525.43 L234.00,524.93 L236.34,524.43 L238.69,523.93 L241.03,523.44 L243.38,522.96 L245.72,522.48 L248.06,522.01 L250.41,521.56 L252.75,521.12" stroke="#d69d12" stroke-width="2.0" stroke-dasharray="5.00,3.00"/>
<path d="M67.55,532.00 L68.48,532.00 L69.41,532.01 L70.34,532.02 L71.27,532.04 L72.20,532.07 L73.13,532.10 L74.06,532.13 L74.99,532.17 L75.92,532.21 L76.85,532.25 L77.78,532.30 L78.71,532.35 L79.65,532.41 L80.58,532.47 L81.51,532.53 L82.44,532.59 L83.37,532.66 L84.30,532.73 L85.23,532.80 L86.16,532.87 L87.09,532.94 L88.02,533.02 L88.95,533.09 L89.88,533.18 L90.81,533.29 L91.74,533.42 L92.68,533.56 L93.61,533.73 L94.54,533.91 L95.47,534.10 L96.40,534.30 L97.33,534.52 L98.26,534.75 L99.19,534.98 L100.12,535.22 L101.05,535.46 L101.98,535.71 L102.91,535.96 L103.84,536.21 L104.77,536.46 L105.70,536.71 L106.64,536.95 L107.57,537.19 L108.50,537.43 L109.43,537.65 L110.36,537.87 L111.29,538.07 L112.22,538.26 L113.15,538.44 L114.08,538.62 L115.01,538.79 L115.94,538.96 L116.87,539.13 L117.80,539.29 L118.73,539.46 L119.67,539.62 L120.60,539.78 L121.53,539.94 L122.46,540.10 L123.39,540.26 L124.32,540.41 L125.25,540.56 L126.18,540.72 L127.11,540.87 L128.04,541.02 L128.97,541.17 L129.90,541.32 L130.83,541.46 L131.76,541.61 L132.69,541.76 L133.63,541.90 L134.56,542.05 L135.49,542.19 L136.42,542.34 L137.35,542.48 L138.28,542.63 L139.21,542.79 L140.14,542.94 L141.07,543.10 L142.00,543.26 L142.93,543.42 L143.86,543.58 L144.79,543.73 L145.72,543.89 L146.66,544.05 L147.59,544.20 L148.52,544.35 L149.45,544.50 L150.38,544.64 L151.31,544.78 L152.24,544.92 L153.17,545.05 L154.10,545.17 L155.03,545.29 L155.96,545.39 L156.89,545.50 L157.82,545.59 L158.75,545.67 L159.68,545.75 L160.62,545.81 L161.55,545.88 L162.48,545.94 L163.41,546.00 L164.34,546.05 L165.27,546.11 L166.20,546.16 L167.13,546.22 L168.06,546.27 L168.99,546.32 L169.92,546.36 L170.85,546.41 L171.78,546.45 L172.71,546.50 L173.64,546.54 L174.58,546.57 L175.51,546.61 L176.44,546.65 L177.37,546.68 L178.30,546.71 L179.23,546.74 L180.16,546.77 L181.09,546.80 L182.02,546.82 L182.95,546.85 L183.88,546.87 L184.81,546.89 L185.74,546.91 L186.67,546.93 L187.61,546.95 L188.54,546.97 L189.47,546.99 L190.40,547.01 L191.33,547.03 L192.26,547.05 L193.19,547.07 L194.12,547.09 L195.05,547.11 L195.98,547.12 L196.91,547.14 L197.84,547.15 L198.77,547.17 L199.70,547.18 L200.63,547.19 L201.57,547.20 L202.50,547.21 L203.43,547.22 L204.36,547.22 L205.29,547.23 L206.22,547.23 L207.15,547.23 L208.08,547.23 L209.01,547.23 L209.94,547.23 L210.87,547.23 L211.80,547.23 L212.73,547.23 L213.66,547.23 L214.60,547.23 L215.53,547.23 L216.46,547.23 L217.39,547.23 L218.32,547.23 L219.25,547.23 L220.18,547.23 L221.11,547.23 L222.04,547.23 L222.97,547.23 L223.90,547.23 L224.83,547.23 L225.76,547.23 L226.69,547.23 L227.62,547.23 L228.56,547.23 L229.49,547.23 L230.42,547.23 L231.35,547.23 L232.28,547.23 L233.21,547.23 L234.14,547.23 L235.07,547.23 L236.00,547.23 L236.93,547.23 L237.86,547.23 L238.79,547.23 L239.72,547.23 L240.65,547.23 L241.59,547.23 L242.52,547.23 L243.45,547.23 L244.38,547.23 L245.31,547.23 L246.24,547.23 L247.17,547.23 L248.10,547.23 L249.03,547.23 L249.96,547.23 L250.89,547.23 L251.82,547.23 L252.75,547.23" stroke="#b45cff" stroke-width="2.0" stroke-dasharray="8.00,4.80,2.20,4.80,2.20,4.80"/>
<path d="M67.55,532.09 L69.89,532.08 L72.24,532.05 L74.58,531.99 L76.92,531.91 L79.27,531.81 L81.61,531.69 L83.96,531.55 L86.30,531.39 L88.65,531.21 L90.99,531.01 L93.33,530.79 L95.68,530.56 L98.02,530.31 L100.37,530.05 L102.71,529.77 L105.06,529.47 L107.40,529.16 L109.75,528.83 L112.09,528.49 L114.43,528.14 L116.78,527.78 L119.12,527.40 L121.47,527.00 L123.81,526.60 L126.16,526.18 L128.50,525.75 L130.85,525.31 L133.19,524.86 L135.53,524.39 L137.88,523.91 L140.22,523.42 L142.57,522.92 L144.91,522.41 L147.26,521.88 L149.60,521.35 L151.94,520.80 L154.29,520.23 L156.63,519.66 L158.98,519.07 L161.32,518.48 L163.67,517.86 L166.01,517.24 L168.36,516.60 L170.70,515.95 L173.04,515.28 L175.39,514.60 L177.73,513.91 L180.08,513.20 L182.42,512.47 L184.77,511.73 L187.11,510.97 L189.45,510.19 L191.80,509.40 L194.14,508.59 L196.49,507.76 L198.83,506.91 L201.18,506.04 L203.52,505.15 L205.87,504.24 L208.21,503.30 L210.55,502.35 L212.90,501.37 L215.24,500.36 L217.59,499.33 L219.93,498.28 L222.28,497.20 L224.62,496.09 L226.97,494.95 L229.31,493.78 L231.65,492.58 L234.00,491.35 L236.34,490.08 L238.69,488.79 L241.03,487.45 L243.38,486.09 L245.72,484.68 L248.06,483.24 L250.41,481.75 L252.75,480.23" stroke="#1fa34d" stroke-width="2.0" stroke-dasharray="10.50,5.00,2.20,5.00"/>
<path d="M67.55,532.02 L69.89,531.96 L72.24,531.91 L74.58,531.87 L76.92,531.83 L79.27,531.80 L81.61,531.78 L83.96,531.76 L86.30,531.74 L88.65,531.73 L90.99,531.71 L93.33,531.70 L95.68,531.68 L98.02,531.66 L100.37,531.64 L102.71,531.61 L105.06,531.58 L107.40,531.54 L109.75,531.50 L112.09,531.44 L114.43,531.38 L116.78,531.31 L119.12,531.23 L121.47,531.14 L123.81,531.04 L126.16,530.92 L128.50,530.80 L130.85,530.65 L133.19,530.50 L135.53,530.33 L137.88,530.15 L140.22,529.95 L142.57,529.74 L144.91,529.51 L147.26,529.26 L149.60,529.00 L151.94,528.72 L154.29,528.42 L156.63,528.11 L158.98,527.77 L161.32,527.42 L163.67,527.05 L166.01,526.67 L168.36,526.26 L170.70,525.84 L173.04,525.39 L175.39,524.93 L177.73,524.45 L180.08,523.96 L182.42,523.44 L184.77,522.90 L187.11,522.35 L189.45,521.78 L191.80,521.19 L194.14,520.59 L196.49,519.96 L198.83,519.32 L201.18,518.66 L203.52,517.99 L205.87,517.30 L208.21,516.60 L210.55,515.88 L212.90,515.14 L215.24,514.39 L217.59,513.63 L219.93,512.85 L222.28,512.06 L224.62,511.26 L226.97,510.45 L229.31,509.62 L231.65,508.79 L234.00,507.95 L236.34,507.10 L238.69,506.24 L241.03,505.37 L243.38,504.50 L245.72,503.62 L248.06,502.74 L250.41,501.86 L252.75,500.97" stroke="#1f66ff" stroke-width="2.0" stroke-dasharray="3.00,8.00"/>
<path d="M67.55,532.07 L69.89,532.03 L72.24,531.99 L74.58,531.96 L76.92,531.92 L79.27,531.90 L81.61,531.87 L83.96,531.85 L86.30,531.84 L88.65,531.82 L90.99,531.82 L93.33,531.82 L95.68,531.82 L98.02,531.83 L100.37,531.84 L102.71,531.86 L105.06,531.89 L107.40,531.92 L109.75,531.96 L112.09,532.00 L114.43,532.05 L116.78,532.10 L119.12,532.16 L121.47,532.23 L123.81,532.30 L126.16,532.38 L128.50,532.46 L130.85,532.55 L133.19,532.65 L135.53,532.75 L137.88,532.85 L140.22,532.96 L142.57,533.08 L144.91,533.20 L147.26,533.33 L149.60,533.46 L151.94,533.60 L154.29,533.74 L156.63,533.89 L158.98,534.04 L161.32,534.19 L163.67,534.35 L166.01,534.51 L168.36,534.67 L170.70,534.84 L173.04,535.01 L175.39,535.18 L177.73,535.36 L180.08,535.53 L182.42,535.71 L184.77,535.89 L187.11,536.07 L189.45,536.25 L191.80,536.43 L194.14,536.61 L196.49,536.79 L198.83,536.97 L201.18,537.14 L203.52,537.32 L205.87,537.49 L208.21,537.66 L210.55,537.82 L212.90,537.98 L215.24,538.14 L217.59,538.29 L219.93,538.43 L222.28,538.57 L224.62,538.71 L226.97,538.83 L229.31,538.95 L231.65,539.06 L234.00,539.16 L236.34,539.25 L238.69,539.33 L241.03,539.39 L243.38,539.45 L245.72,539.50 L248.06,539.53 L250.41,539.55 L252.75,539.55" stroke="#ff2a2a" stroke-width="2.0" stroke-dasharray="8.70,9.30"/>
<path d="M67.55,532.07 L69.89,532.01 L72.24,531.96 L74.58,531.92 L76.92,531.89 L79.27,531.87 L81.61,531.87 L83.96,531.88 L86.30,531.90 L88.65,531.95 L90.99,532.01 L93.33,532.08 L95.68,532.18 L98.02,532.29 L100.37,532.42 L102.71,532.58 L105.06,532.75 L107.40,532.94 L109.75,533.16 L112.09,533.39 L114.43,533.65 L116.78,533.93 L119.12,534.23 L121.47,534.55 L123.81,534.90 L126.16,535.27 L128.50,535.66 L130.85,536.08 L133.19,536.51 L135.53,536.97 L137.88,537.46 L140.22,537.96 L142.57,538.49 L144.91,539.04 L147.26,539.61 L149.60,540.20 L151.94,540.81 L154.29,541.45 L156.63,542.10 L158.98,542.77 L161.32,543.47 L163.67,544.18 L166.01,544.91 L168.36,545.66 L170.70,546.42 L173.04,547.20 L175.39,548.00 L177.73,548.81 L180.08,549.63 L182.42,550.47 L184.77,551.32 L187.11,552.18 L189.45,553.04 L191.80,553.92 L194.14,554.81 L196.49,555.70 L198.83,556.60 L201.18,557.50 L203.52,558.41 L205.87,559.31 L208.21,560.22 L210.55,561.13 L212.90,562.03 L215.24,562.93 L217.59,563.82 L219.93,564.71 L222.28,565.59 L224.62,566.46 L226.97,567.31 L229.31,568.16 L231.65,568.98 L234.00,569.80 L236.34,570.59 L238.69,571.36 L241.03,572.11 L243.38,572.83 L245.72,573.53 L248.06,574.19 L250.41,574.83 L252.75,575.43" stroke="#3a3a3a" stroke-width="2.0"/>
</g>
<rect x="57.2" y="425.2" width="60.099999999999994" height="86.60000000000002" fill="#ffffff" stroke="#c8c8c8" stroke-width="0.8"/>
<line x1="58.5" y1="432.00" x2="79.2" y2="432.00" stroke="#3a3a3a" stroke-width="2.0"/>
<text x="80.5" y="434.85" font-family='"Liberation Sans", sans-serif' font-weight="bold" font-size="7.92" stroke="#000" stroke-width="0.18" textLength="35.20" lengthAdjust="spacingAndGlyphs">532nm,TM</text>
<line x1="58.5" y1="442.67" x2="79.2" y2="442.67" stroke="#ff2a2a" stroke-width="2.0" stroke-dasharray="8.70,9.30"/>
<text x="80.5" y="445.52" font-family='"Liberation Sans", sans-serif' font-weight="bold" font-size="7.92" stroke="#000" stroke-width="0.18" textLength="35.20" lengthAdjust="spacingAndGlyphs">633nm,TM</text>
<line x1="58.5" y1="453.34" x2="79.2" y2="453.34" stroke="#1f66ff" stroke-width="2.0" stroke-dasharray="3.00,8.00"/>
<text x="80.5" y="456.19" font-family='"Liberation Sans", sans-serif' font-weight="bold" font-size="7.92" stroke="#000" stroke-width="0.18" textLength="35.20" lengthAdjust="spacingAndGlyphs">775nm,TM</text>
<line x1="58.5" y1="464.01" x2="79.2" y2="464.01" stroke="#1fa34d" stroke-width="2.0" stroke-dasharray="10.50,5.00,2.20,5.00"/>
<text x="80.5" y="466.86" font-family='"Liberation Sans", sans-serif' font-weight="bold" font-size="7.92" stroke="#000" stroke-width="0.18" textLength="35.20" lengthAdjust="spacingAndGlyphs">850nm,TM</text>
<line x1="58.5" y1="474.68" x2="79.2" y2="474.68" stroke="#b45cff" stroke-width="2.0" stroke-dasharray="8.00,4.80,2.20,4.80,2.20,4.80"/>
<text x="80.5" y="477.53" font-family='"Liberation Sans", sans-serif' font-weight="bold" font-size="7.92" stroke="#000" stroke-width="0.18" textLength="31.68" lengthAdjust="spacingAndGlyphs">532nm,TE</text>
<line x1="58.5" y1="485.35" x2="79.2" y2="485.35" stroke="#d69d12" stroke-width="2.0" stroke-dasharray="5.00,3.00"/>
<text x="80.5" y="488.20" font-family='"Liberation Sans", sans-serif' font-weight="bold" font-size="7.92" stroke="#000" stroke-width="0.18" textLength="31.68" lengthAdjust="spacingAndGlyphs">633nm,TE</text>
<line x1="58.5" y1="496.02" x2="79.2" y2="496.02" stroke="#12dcec" stroke-width="2.0" stroke-dasharray="2.00,2.00"/>
<text x="80.5" y="498.87" font-family='"Liberation Sans", sans-serif' font-weight="bold" font-size="7.92" stroke="#000" stroke-width="0.18" textLength="31.68" lengthAdjust="spacingAndGlyphs">775nm,TE</text>
<line x1="58.5" y1="506.69" x2="79.2" y2="506.69" stroke="#7d3232" stroke-width="2.0" stroke-dasharray="8.00,2.40,1.60,2.40"/>
<text x="80.5" y="509.54" font-family='"Liberation Sans", sans-serif' font-weight="bold" font-size="7.92" stroke="#000" stroke-width="0.18" textLength="31.68" lengthAdjust="spacingAndGlyphs">850nm,TE</text>
<rect x="53.3" y="423.2" width="213.7" height="163.2" fill="none" stroke="#7a7a7a" stroke-width="1.2"/>
<line x1="65.17" y1="586.40" x2="65.17" y2="588.90" stroke="#555" stroke-width="1"/>
<line x1="112.66" y1="586.40" x2="112.66" y2="588.90" stroke="#555" stroke-width="1"/>
<line x1="160.15" y1="586.40" x2="160.15" y2="588.90" stroke="#555" stroke-width="1"/>
<line x1="207.64" y1="586.40" x2="207.64" y2="588.90" stroke="#555" stroke-width="1"/>
<line x1="255.13" y1="586.40" x2="255.13" y2="588.90" stroke="#555" stroke-width="1"/>
<line x1="88.92" y1="586.40" x2="88.92" y2="587.90" stroke="#555" stroke-width="1"/>
<line x1="136.41" y1="586.40" x2="136.41" y2="587.90" stroke="#555" stroke-width="1"/>
<line x1="183.89" y1="586.40" x2="183.89" y2="587.90" stroke="#555" stroke-width="1"/>
<line x1="231.38" y1="586.40" x2="231.38" y2="587.90" stroke="#555" stroke-width="1"/>
<line x1="50.80" y1="586.40" x2="53.30" y2="586.40" stroke="#555" stroke-width="1"/>
<line x1="50.80" y1="568.27" x2="53.30" y2="568.27" stroke="#555" stroke-width="1"/>
<line x1="50.80" y1="550.13" x2="53.30" y2="550.13" stroke="#555" stroke-width="1"/>
<line x1="50.80" y1="532.00" x2="53.30" y2="532.00" stroke="#555" stroke-width="1"/>
<line x1="50.80" y1="513.87" x2="53.30" y2="513.87" stroke="#555" stroke-width="1"/>
<line x1="50.80" y1="495.73" x2="53.30" y2="495.73" stroke="#555" stroke-width="1"/>
<line x1="50.80" y1="477.60" x2="53.30" y2="477.60" stroke="#555" stroke-width="1"/>
<line x1="50.80" y1="459.47" x2="53.30" y2="459.47" stroke="#555" stroke-width="1"/>
<line x1="50.80" y1="441.33" x2="53.30" y2="441.33" stroke="#555" stroke-width="1"/>
<line x1="50.80" y1="423.20" x2="53.30" y2="423.20" stroke="#555" stroke-width="1"/>
<line x1="51.80" y1="577.33" x2="53.30" y2="577.33" stroke="#555" stroke-width="1"/>
<line x1="51.80" y1="559.20" x2="53.30" y2="559.20" stroke="#555" stroke-width="1"/>
<line x1="51.80" y1="541.07" x2="53.30" y2="541.07" stroke="#555" stroke-width="1"/>
<line x1="51.80" y1="522.93" x2="53.30" y2="522.93" stroke="#555" stroke-width="1"/>
<line x1="51.80" y1="504.80" x2="53.30" y2="504.80" stroke="#555" stroke-width="1"/>
<line x1="51.80" y1="486.67" x2="53.30" y2="486.67" stroke="#555" stroke-width="1"/>
<line x1="51.80" y1="468.53" x2="53.30" y2="468.53" stroke="#555" stroke-width="1"/>
<line x1="51.80" y1="450.40" x2="53.30" y2="450.40" stroke="#555" stroke-width="1"/>
<line x1="51.80" y1="432.27" x2="53.30" y2="432.27" stroke="#555" stroke-width="1"/>
<text x="65.17" y="600.00" text-anchor="middle" font-family='"Liberation Sans", sans-serif' font-weight="bold" font-size="10" stroke="#000" stroke-width="0.2" textLength="6.12" lengthAdjust="spacingAndGlyphs">0</text>
<text x="112.66" y="600.00" text-anchor="middle" font-family='"Liberation Sans", sans-serif' font-weight="bold" font-size="10" stroke="#000" stroke-width="0.2" textLength="12.23" lengthAdjust="spacingAndGlyphs">20</text>
<text x="160.15" y="600.00" text-anchor="middle" font-family='"Liberation Sans", sans-serif' font-weight="bold" font-size="10" stroke="#000" stroke-width="0.2" textLength="12.23" lengthAdjust="spacingAndGlyphs">40</text>
<text x="207.64" y="600.00" text-anchor="middle" font-family='"Liberation Sans", sans-serif' font-weight="bold" font-size="10" stroke="#000" stroke-width="0.2" textLength="12.23" lengthAdjust="spacingAndGlyphs">60</text>
<text x="255.13" y="600.00" text-anchor="middle" font-family='"Liberation Sans", sans-serif' font-weight="bold" font-size="10" stroke="#000" stroke-width="0.2" textLength="12.23" lengthAdjust="spacingAndGlyphs">80</text>
<text x="48.30" y="589.50" text-anchor="end" font-family='"Liberation Sans", sans-serif' font-weight="bold" font-size="10" stroke="#000" stroke-width="0.2" textLength="15.90" lengthAdjust="spacingAndGlyphs">-30</text>
<text x="48.30" y="571.37" text-anchor="end" font-family='"Liberation Sans", sans-serif' font-weight="bold" font-size="10" stroke="#000" stroke-width="0.2" textLength="15.90" lengthAdjust="spacingAndGlyphs">-20</text>
<text x="48.30" y="553.23" text-anchor="end" font-family='"Liberation Sans", sans-serif' font-weight="bold" font-size="10" stroke="#000" stroke-width="0.2" textLength="15.90" lengthAdjust="spacingAndGlyphs">-10</text>
<text x="48.30" y="535.10" text-anchor="end" font-family='"Liberation Sans", sans-serif' font-weight="bold" font-size="10" stroke="#000" stroke-width="0.2" textLength="6.12" lengthAdjust="spacingAndGlyphs">0</text>
<text x="48.30" y="516.97" text-anchor="end" font-family='"Liberation Sans", sans-serif' font-weight="bold" font-size="10" stroke="#000" stroke-width="0.2" textLength="12.23" lengthAdjust="spacingAndGlyphs">10</text>
<text x="48.30" y="498.83" text-anchor="end" font-family='"Liberation Sans", sans-serif' font-weight="bold" font-size="10" stroke="#000" stroke-width="0.2" textLength="12.23" lengthAdjust="spacingAndGlyphs">20</text>
<text x="48.30" y="480.70" text-anchor="end" font-family='"Liberation Sans", sans-serif' font-weight="bold" font-size="10" stroke="#000" stroke-width="0.2" textLength="12.23" lengthAdjust="spacingAndGlyphs">30</text>
<text x="48.30" y="462.57" text-anchor="end" font-family='"Liberation Sans", sans-serif' font-weight="bold" font-size="10" stroke="#000" stroke-width="0.2" textLength="12.23" lengthAdjust="spacingAndGlyphs">40</text>
<text x="48.30" y="444.43" text-anchor="end" font-family='"Liberation Sans", sans-serif' font-weight="bold" font-size="10" stroke="#000" stroke-width="0.2" textLength="12.23" lengthAdjust="spacingAndGlyphs">50</text>
<text x="48.30" y="426.30" text-anchor="end" font-family='"Liberation Sans", sans-serif' font-weight="bold" font-size="10" stroke="#000" stroke-width="0.2" textLength="12.23" lengthAdjust="spacingAndGlyphs">60</text>
<text x="138.7" y="611" font-family='"Liberation Serif", serif' font-weight="bold" font-size="12" textLength="38.6" lengthAdjust="spacingAndGlyphs">D (nm)</text>
<text transform="translate(30.8,508.5) rotate(-90)" text-anchor="middle" font-family='"Liberation Sans", sans-serif' font-weight="bold" font-size="11" stroke="#000" stroke-width="0.25" textLength="39.5" lengthAdjust="spacingAndGlyphs">&#916;x (nm)</text>
<text x="6.3" y="433.5" font-family='"Liberation Serif", serif' font-weight="bold" font-size="19" textLength="22.3" lengthAdjust="spacingAndGlyphs">(e)</text>
</svg>
</body></html>
